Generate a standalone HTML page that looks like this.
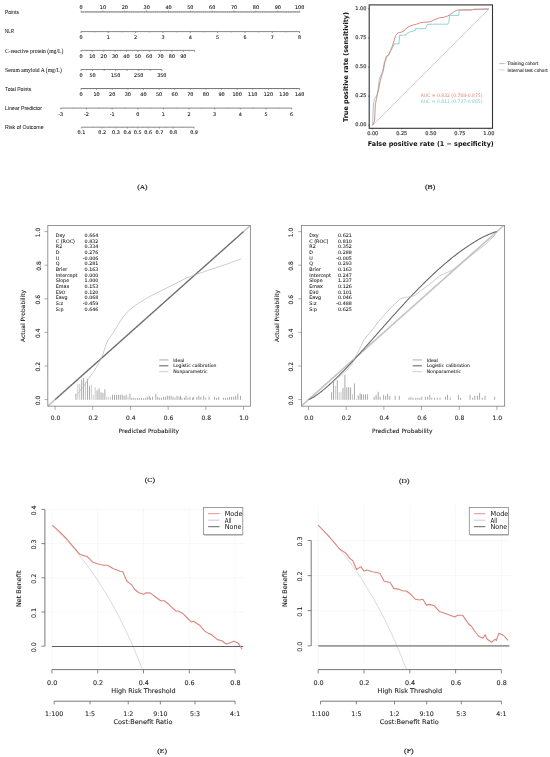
<!DOCTYPE html>
<html><head><meta charset="utf-8"><title>Figure</title>
<style>html,body{margin:0;padding:0;background:#fff;}svg{display:block;}.d{font-family:"DejaVu Sans","Liberation Sans",sans-serif}.l{font-family:"Liberation Sans",sans-serif}.s{font-family:"Liberation Serif",serif}</style></head>
<body><svg width="550" height="757" viewBox="0 0 550 757">
<rect width="550" height="757" fill="#fff"/>
<text class="l" x="5" y="14.1" font-size="5.2" fill="#262626" stroke="#262626" stroke-width="0.06" textLength="14" lengthAdjust="spacingAndGlyphs">Points</text>
<text class="l" x="5" y="33.4" font-size="5.2" fill="#262626" stroke="#262626" stroke-width="0.06" textLength="9" lengthAdjust="spacingAndGlyphs">NLR</text>
<text class="s" x="5.1" y="52.6" font-size="5.6" fill="#262626" stroke="#262626" stroke-width="0.06" textLength="58.2" lengthAdjust="spacingAndGlyphs">C-reactive protein (mg/L)</text>
<text class="s" x="5.1" y="71.9" font-size="5.6" fill="#262626" stroke="#262626" stroke-width="0.06" textLength="56.7" lengthAdjust="spacingAndGlyphs">Serum amyloid A (mg/L)</text>
<text class="l" x="5.1" y="90.6" font-size="5.2" fill="#262626" stroke="#262626" stroke-width="0.06" textLength="26.2" lengthAdjust="spacingAndGlyphs">Total Points</text>
<text class="l" x="5.1" y="110" font-size="5.2" fill="#262626" stroke="#262626" stroke-width="0.06" textLength="36.8" lengthAdjust="spacingAndGlyphs">Linear Predictor</text>
<text class="l" x="5.1" y="128.9" font-size="5.2" fill="#262626" stroke="#262626" stroke-width="0.06" textLength="38.5" lengthAdjust="spacingAndGlyphs">Risk of Outcome</text>
<line x1="81.1" y1="11.9" x2="299.6" y2="11.9" stroke="#7a7a7a" stroke-width="1.0"/>
<line x1="81.1" y1="11.9" x2="81.1" y2="12.8" stroke="#7a7a7a" stroke-width="0.5"/>
<line x1="83.28" y1="11.9" x2="83.28" y2="12.8" stroke="#7a7a7a" stroke-width="0.5"/>
<line x1="85.47" y1="11.9" x2="85.47" y2="12.8" stroke="#7a7a7a" stroke-width="0.5"/>
<line x1="87.66" y1="11.9" x2="87.66" y2="12.8" stroke="#7a7a7a" stroke-width="0.5"/>
<line x1="89.84" y1="11.9" x2="89.84" y2="12.8" stroke="#7a7a7a" stroke-width="0.5"/>
<line x1="92.02" y1="11.9" x2="92.02" y2="12.8" stroke="#7a7a7a" stroke-width="0.5"/>
<line x1="94.21" y1="11.9" x2="94.21" y2="12.8" stroke="#7a7a7a" stroke-width="0.5"/>
<line x1="96.39" y1="11.9" x2="96.39" y2="12.8" stroke="#7a7a7a" stroke-width="0.5"/>
<line x1="98.58" y1="11.9" x2="98.58" y2="12.8" stroke="#7a7a7a" stroke-width="0.5"/>
<line x1="100.77" y1="11.9" x2="100.77" y2="12.8" stroke="#7a7a7a" stroke-width="0.5"/>
<line x1="102.95" y1="11.9" x2="102.95" y2="12.8" stroke="#7a7a7a" stroke-width="0.5"/>
<line x1="105.13" y1="11.9" x2="105.13" y2="12.8" stroke="#7a7a7a" stroke-width="0.5"/>
<line x1="107.32" y1="11.9" x2="107.32" y2="12.8" stroke="#7a7a7a" stroke-width="0.5"/>
<line x1="109.5" y1="11.9" x2="109.5" y2="12.8" stroke="#7a7a7a" stroke-width="0.5"/>
<line x1="111.69" y1="11.9" x2="111.69" y2="12.8" stroke="#7a7a7a" stroke-width="0.5"/>
<line x1="113.88" y1="11.9" x2="113.88" y2="12.8" stroke="#7a7a7a" stroke-width="0.5"/>
<line x1="116.06" y1="11.9" x2="116.06" y2="12.8" stroke="#7a7a7a" stroke-width="0.5"/>
<line x1="118.25" y1="11.9" x2="118.25" y2="12.8" stroke="#7a7a7a" stroke-width="0.5"/>
<line x1="120.43" y1="11.9" x2="120.43" y2="12.8" stroke="#7a7a7a" stroke-width="0.5"/>
<line x1="122.62" y1="11.9" x2="122.62" y2="12.8" stroke="#7a7a7a" stroke-width="0.5"/>
<line x1="124.8" y1="11.9" x2="124.8" y2="12.8" stroke="#7a7a7a" stroke-width="0.5"/>
<line x1="126.99" y1="11.9" x2="126.99" y2="12.8" stroke="#7a7a7a" stroke-width="0.5"/>
<line x1="129.17" y1="11.9" x2="129.17" y2="12.8" stroke="#7a7a7a" stroke-width="0.5"/>
<line x1="131.36" y1="11.9" x2="131.36" y2="12.8" stroke="#7a7a7a" stroke-width="0.5"/>
<line x1="133.54" y1="11.9" x2="133.54" y2="12.8" stroke="#7a7a7a" stroke-width="0.5"/>
<line x1="135.73" y1="11.9" x2="135.73" y2="12.8" stroke="#7a7a7a" stroke-width="0.5"/>
<line x1="137.91" y1="11.9" x2="137.91" y2="12.8" stroke="#7a7a7a" stroke-width="0.5"/>
<line x1="140.09" y1="11.9" x2="140.09" y2="12.8" stroke="#7a7a7a" stroke-width="0.5"/>
<line x1="142.28" y1="11.9" x2="142.28" y2="12.8" stroke="#7a7a7a" stroke-width="0.5"/>
<line x1="144.47" y1="11.9" x2="144.47" y2="12.8" stroke="#7a7a7a" stroke-width="0.5"/>
<line x1="146.65" y1="11.9" x2="146.65" y2="12.8" stroke="#7a7a7a" stroke-width="0.5"/>
<line x1="148.84" y1="11.9" x2="148.84" y2="12.8" stroke="#7a7a7a" stroke-width="0.5"/>
<line x1="151.02" y1="11.9" x2="151.02" y2="12.8" stroke="#7a7a7a" stroke-width="0.5"/>
<line x1="153.21" y1="11.9" x2="153.21" y2="12.8" stroke="#7a7a7a" stroke-width="0.5"/>
<line x1="155.39" y1="11.9" x2="155.39" y2="12.8" stroke="#7a7a7a" stroke-width="0.5"/>
<line x1="157.58" y1="11.9" x2="157.58" y2="12.8" stroke="#7a7a7a" stroke-width="0.5"/>
<line x1="159.76" y1="11.9" x2="159.76" y2="12.8" stroke="#7a7a7a" stroke-width="0.5"/>
<line x1="161.94" y1="11.9" x2="161.94" y2="12.8" stroke="#7a7a7a" stroke-width="0.5"/>
<line x1="164.13" y1="11.9" x2="164.13" y2="12.8" stroke="#7a7a7a" stroke-width="0.5"/>
<line x1="166.31" y1="11.9" x2="166.31" y2="12.8" stroke="#7a7a7a" stroke-width="0.5"/>
<line x1="168.5" y1="11.9" x2="168.5" y2="12.8" stroke="#7a7a7a" stroke-width="0.5"/>
<line x1="170.69" y1="11.9" x2="170.69" y2="12.8" stroke="#7a7a7a" stroke-width="0.5"/>
<line x1="172.87" y1="11.9" x2="172.87" y2="12.8" stroke="#7a7a7a" stroke-width="0.5"/>
<line x1="175.06" y1="11.9" x2="175.06" y2="12.8" stroke="#7a7a7a" stroke-width="0.5"/>
<line x1="177.24" y1="11.9" x2="177.24" y2="12.8" stroke="#7a7a7a" stroke-width="0.5"/>
<line x1="179.43" y1="11.9" x2="179.43" y2="12.8" stroke="#7a7a7a" stroke-width="0.5"/>
<line x1="181.61" y1="11.9" x2="181.61" y2="12.8" stroke="#7a7a7a" stroke-width="0.5"/>
<line x1="183.8" y1="11.9" x2="183.8" y2="12.8" stroke="#7a7a7a" stroke-width="0.5"/>
<line x1="185.98" y1="11.9" x2="185.98" y2="12.8" stroke="#7a7a7a" stroke-width="0.5"/>
<line x1="188.17" y1="11.9" x2="188.17" y2="12.8" stroke="#7a7a7a" stroke-width="0.5"/>
<line x1="190.35" y1="11.9" x2="190.35" y2="12.8" stroke="#7a7a7a" stroke-width="0.5"/>
<line x1="192.54" y1="11.9" x2="192.54" y2="12.8" stroke="#7a7a7a" stroke-width="0.5"/>
<line x1="194.72" y1="11.9" x2="194.72" y2="12.8" stroke="#7a7a7a" stroke-width="0.5"/>
<line x1="196.91" y1="11.9" x2="196.91" y2="12.8" stroke="#7a7a7a" stroke-width="0.5"/>
<line x1="199.09" y1="11.9" x2="199.09" y2="12.8" stroke="#7a7a7a" stroke-width="0.5"/>
<line x1="201.28" y1="11.9" x2="201.28" y2="12.8" stroke="#7a7a7a" stroke-width="0.5"/>
<line x1="203.46" y1="11.9" x2="203.46" y2="12.8" stroke="#7a7a7a" stroke-width="0.5"/>
<line x1="205.65" y1="11.9" x2="205.65" y2="12.8" stroke="#7a7a7a" stroke-width="0.5"/>
<line x1="207.83" y1="11.9" x2="207.83" y2="12.8" stroke="#7a7a7a" stroke-width="0.5"/>
<line x1="210.02" y1="11.9" x2="210.02" y2="12.8" stroke="#7a7a7a" stroke-width="0.5"/>
<line x1="212.2" y1="11.9" x2="212.2" y2="12.8" stroke="#7a7a7a" stroke-width="0.5"/>
<line x1="214.39" y1="11.9" x2="214.39" y2="12.8" stroke="#7a7a7a" stroke-width="0.5"/>
<line x1="216.57" y1="11.9" x2="216.57" y2="12.8" stroke="#7a7a7a" stroke-width="0.5"/>
<line x1="218.76" y1="11.9" x2="218.76" y2="12.8" stroke="#7a7a7a" stroke-width="0.5"/>
<line x1="220.94" y1="11.9" x2="220.94" y2="12.8" stroke="#7a7a7a" stroke-width="0.5"/>
<line x1="223.13" y1="11.9" x2="223.13" y2="12.8" stroke="#7a7a7a" stroke-width="0.5"/>
<line x1="225.31" y1="11.9" x2="225.31" y2="12.8" stroke="#7a7a7a" stroke-width="0.5"/>
<line x1="227.5" y1="11.9" x2="227.5" y2="12.8" stroke="#7a7a7a" stroke-width="0.5"/>
<line x1="229.68" y1="11.9" x2="229.68" y2="12.8" stroke="#7a7a7a" stroke-width="0.5"/>
<line x1="231.87" y1="11.9" x2="231.87" y2="12.8" stroke="#7a7a7a" stroke-width="0.5"/>
<line x1="234.05" y1="11.9" x2="234.05" y2="12.8" stroke="#7a7a7a" stroke-width="0.5"/>
<line x1="236.24" y1="11.9" x2="236.24" y2="12.8" stroke="#7a7a7a" stroke-width="0.5"/>
<line x1="238.42" y1="11.9" x2="238.42" y2="12.8" stroke="#7a7a7a" stroke-width="0.5"/>
<line x1="240.61" y1="11.9" x2="240.61" y2="12.8" stroke="#7a7a7a" stroke-width="0.5"/>
<line x1="242.79" y1="11.9" x2="242.79" y2="12.8" stroke="#7a7a7a" stroke-width="0.5"/>
<line x1="244.98" y1="11.9" x2="244.98" y2="12.8" stroke="#7a7a7a" stroke-width="0.5"/>
<line x1="247.16" y1="11.9" x2="247.16" y2="12.8" stroke="#7a7a7a" stroke-width="0.5"/>
<line x1="249.35" y1="11.9" x2="249.35" y2="12.8" stroke="#7a7a7a" stroke-width="0.5"/>
<line x1="251.53" y1="11.9" x2="251.53" y2="12.8" stroke="#7a7a7a" stroke-width="0.5"/>
<line x1="253.72" y1="11.9" x2="253.72" y2="12.8" stroke="#7a7a7a" stroke-width="0.5"/>
<line x1="255.9" y1="11.9" x2="255.9" y2="12.8" stroke="#7a7a7a" stroke-width="0.5"/>
<line x1="258.09" y1="11.9" x2="258.09" y2="12.8" stroke="#7a7a7a" stroke-width="0.5"/>
<line x1="260.27" y1="11.9" x2="260.27" y2="12.8" stroke="#7a7a7a" stroke-width="0.5"/>
<line x1="262.46" y1="11.9" x2="262.46" y2="12.8" stroke="#7a7a7a" stroke-width="0.5"/>
<line x1="264.64" y1="11.9" x2="264.64" y2="12.8" stroke="#7a7a7a" stroke-width="0.5"/>
<line x1="266.83" y1="11.9" x2="266.83" y2="12.8" stroke="#7a7a7a" stroke-width="0.5"/>
<line x1="269.01" y1="11.9" x2="269.01" y2="12.8" stroke="#7a7a7a" stroke-width="0.5"/>
<line x1="271.2" y1="11.9" x2="271.2" y2="12.8" stroke="#7a7a7a" stroke-width="0.5"/>
<line x1="273.38" y1="11.9" x2="273.38" y2="12.8" stroke="#7a7a7a" stroke-width="0.5"/>
<line x1="275.57" y1="11.9" x2="275.57" y2="12.8" stroke="#7a7a7a" stroke-width="0.5"/>
<line x1="277.75" y1="11.9" x2="277.75" y2="12.8" stroke="#7a7a7a" stroke-width="0.5"/>
<line x1="279.94" y1="11.9" x2="279.94" y2="12.8" stroke="#7a7a7a" stroke-width="0.5"/>
<line x1="282.12" y1="11.9" x2="282.12" y2="12.8" stroke="#7a7a7a" stroke-width="0.5"/>
<line x1="284.31" y1="11.9" x2="284.31" y2="12.8" stroke="#7a7a7a" stroke-width="0.5"/>
<line x1="286.49" y1="11.9" x2="286.49" y2="12.8" stroke="#7a7a7a" stroke-width="0.5"/>
<line x1="288.68" y1="11.9" x2="288.68" y2="12.8" stroke="#7a7a7a" stroke-width="0.5"/>
<line x1="290.86" y1="11.9" x2="290.86" y2="12.8" stroke="#7a7a7a" stroke-width="0.5"/>
<line x1="293.05" y1="11.9" x2="293.05" y2="12.8" stroke="#7a7a7a" stroke-width="0.5"/>
<line x1="295.23" y1="11.9" x2="295.23" y2="12.8" stroke="#7a7a7a" stroke-width="0.5"/>
<line x1="297.42" y1="11.9" x2="297.42" y2="12.8" stroke="#7a7a7a" stroke-width="0.5"/>
<line x1="299.6" y1="11.9" x2="299.6" y2="12.8" stroke="#7a7a7a" stroke-width="0.5"/>
<line x1="81.1" y1="11.9" x2="81.1" y2="10.5" stroke="#7a7a7a" stroke-width="0.7"/>
<line x1="102.95" y1="11.9" x2="102.95" y2="10.5" stroke="#7a7a7a" stroke-width="0.7"/>
<line x1="124.8" y1="11.9" x2="124.8" y2="10.5" stroke="#7a7a7a" stroke-width="0.7"/>
<line x1="146.65" y1="11.9" x2="146.65" y2="10.5" stroke="#7a7a7a" stroke-width="0.7"/>
<line x1="168.5" y1="11.9" x2="168.5" y2="10.5" stroke="#7a7a7a" stroke-width="0.7"/>
<line x1="190.35" y1="11.9" x2="190.35" y2="10.5" stroke="#7a7a7a" stroke-width="0.7"/>
<line x1="212.2" y1="11.9" x2="212.2" y2="10.5" stroke="#7a7a7a" stroke-width="0.7"/>
<line x1="234.05" y1="11.9" x2="234.05" y2="10.5" stroke="#7a7a7a" stroke-width="0.7"/>
<line x1="255.9" y1="11.9" x2="255.9" y2="10.5" stroke="#7a7a7a" stroke-width="0.7"/>
<line x1="277.75" y1="11.9" x2="277.75" y2="10.5" stroke="#7a7a7a" stroke-width="0.7"/>
<line x1="299.6" y1="11.9" x2="299.6" y2="10.5" stroke="#7a7a7a" stroke-width="0.7"/>
<text class="d" x="81.1" y="8.8" font-size="4.9" fill="#222" stroke="#222" stroke-width="0.12" text-anchor="middle">0</text>
<text class="d" x="102.95" y="8.8" font-size="4.9" fill="#222" stroke="#222" stroke-width="0.12" text-anchor="middle">10</text>
<text class="d" x="124.8" y="8.8" font-size="4.9" fill="#222" stroke="#222" stroke-width="0.12" text-anchor="middle">20</text>
<text class="d" x="146.65" y="8.8" font-size="4.9" fill="#222" stroke="#222" stroke-width="0.12" text-anchor="middle">30</text>
<text class="d" x="168.5" y="8.8" font-size="4.9" fill="#222" stroke="#222" stroke-width="0.12" text-anchor="middle">40</text>
<text class="d" x="190.35" y="8.8" font-size="4.9" fill="#222" stroke="#222" stroke-width="0.12" text-anchor="middle">50</text>
<text class="d" x="212.2" y="8.8" font-size="4.9" fill="#222" stroke="#222" stroke-width="0.12" text-anchor="middle">60</text>
<text class="d" x="234.05" y="8.8" font-size="4.9" fill="#222" stroke="#222" stroke-width="0.12" text-anchor="middle">70</text>
<text class="d" x="255.9" y="8.8" font-size="4.9" fill="#222" stroke="#222" stroke-width="0.12" text-anchor="middle">80</text>
<text class="d" x="277.75" y="8.8" font-size="4.9" fill="#222" stroke="#222" stroke-width="0.12" text-anchor="middle">90</text>
<text class="d" x="299.6" y="8.8" font-size="4.9" fill="#222" stroke="#222" stroke-width="0.12" text-anchor="middle">100</text>
<line x1="81" y1="31.6" x2="299.6" y2="31.6" stroke="#7a7a7a" stroke-width="0.9"/>
<line x1="81" y1="31.6" x2="81" y2="32.5" stroke="#7a7a7a" stroke-width="0.5"/>
<line x1="94.66" y1="31.6" x2="94.66" y2="32.5" stroke="#7a7a7a" stroke-width="0.5"/>
<line x1="108.33" y1="31.6" x2="108.33" y2="32.5" stroke="#7a7a7a" stroke-width="0.5"/>
<line x1="121.99" y1="31.6" x2="121.99" y2="32.5" stroke="#7a7a7a" stroke-width="0.5"/>
<line x1="135.65" y1="31.6" x2="135.65" y2="32.5" stroke="#7a7a7a" stroke-width="0.5"/>
<line x1="149.31" y1="31.6" x2="149.31" y2="32.5" stroke="#7a7a7a" stroke-width="0.5"/>
<line x1="162.98" y1="31.6" x2="162.98" y2="32.5" stroke="#7a7a7a" stroke-width="0.5"/>
<line x1="176.64" y1="31.6" x2="176.64" y2="32.5" stroke="#7a7a7a" stroke-width="0.5"/>
<line x1="190.3" y1="31.6" x2="190.3" y2="32.5" stroke="#7a7a7a" stroke-width="0.5"/>
<line x1="203.96" y1="31.6" x2="203.96" y2="32.5" stroke="#7a7a7a" stroke-width="0.5"/>
<line x1="217.62" y1="31.6" x2="217.62" y2="32.5" stroke="#7a7a7a" stroke-width="0.5"/>
<line x1="231.29" y1="31.6" x2="231.29" y2="32.5" stroke="#7a7a7a" stroke-width="0.5"/>
<line x1="244.95" y1="31.6" x2="244.95" y2="32.5" stroke="#7a7a7a" stroke-width="0.5"/>
<line x1="258.61" y1="31.6" x2="258.61" y2="32.5" stroke="#7a7a7a" stroke-width="0.5"/>
<line x1="272.28" y1="31.6" x2="272.28" y2="32.5" stroke="#7a7a7a" stroke-width="0.5"/>
<line x1="285.94" y1="31.6" x2="285.94" y2="32.5" stroke="#7a7a7a" stroke-width="0.5"/>
<line x1="299.6" y1="31.6" x2="299.6" y2="32.5" stroke="#7a7a7a" stroke-width="0.5"/>
<line x1="81" y1="31.6" x2="81" y2="33" stroke="#7a7a7a" stroke-width="0.7"/>
<line x1="108.33" y1="31.6" x2="108.33" y2="33" stroke="#7a7a7a" stroke-width="0.7"/>
<line x1="135.65" y1="31.6" x2="135.65" y2="33" stroke="#7a7a7a" stroke-width="0.7"/>
<line x1="162.98" y1="31.6" x2="162.98" y2="33" stroke="#7a7a7a" stroke-width="0.7"/>
<line x1="190.3" y1="31.6" x2="190.3" y2="33" stroke="#7a7a7a" stroke-width="0.7"/>
<line x1="217.62" y1="31.6" x2="217.62" y2="33" stroke="#7a7a7a" stroke-width="0.7"/>
<line x1="244.95" y1="31.6" x2="244.95" y2="33" stroke="#7a7a7a" stroke-width="0.7"/>
<line x1="272.28" y1="31.6" x2="272.28" y2="33" stroke="#7a7a7a" stroke-width="0.7"/>
<line x1="299.6" y1="31.6" x2="299.6" y2="33" stroke="#7a7a7a" stroke-width="0.7"/>
<text class="d" x="81" y="39.4" font-size="4.9" fill="#222" stroke="#222" stroke-width="0.12" text-anchor="middle">0</text>
<text class="d" x="108.33" y="39.4" font-size="4.9" fill="#222" stroke="#222" stroke-width="0.12" text-anchor="middle">1</text>
<text class="d" x="135.65" y="39.4" font-size="4.9" fill="#222" stroke="#222" stroke-width="0.12" text-anchor="middle">2</text>
<text class="d" x="162.98" y="39.4" font-size="4.9" fill="#222" stroke="#222" stroke-width="0.12" text-anchor="middle">3</text>
<text class="d" x="190.3" y="39.4" font-size="4.9" fill="#222" stroke="#222" stroke-width="0.12" text-anchor="middle">4</text>
<text class="d" x="217.62" y="39.4" font-size="4.9" fill="#222" stroke="#222" stroke-width="0.12" text-anchor="middle">5</text>
<text class="d" x="244.95" y="39.4" font-size="4.9" fill="#222" stroke="#222" stroke-width="0.12" text-anchor="middle">6</text>
<text class="d" x="272.28" y="39.4" font-size="4.9" fill="#222" stroke="#222" stroke-width="0.12" text-anchor="middle">7</text>
<text class="d" x="299.6" y="39.4" font-size="4.9" fill="#222" stroke="#222" stroke-width="0.12" text-anchor="middle">8</text>
<line x1="81" y1="50.4" x2="194.7" y2="50.4" stroke="#7a7a7a" stroke-width="0.9"/>
<line x1="81" y1="50.4" x2="81" y2="51.3" stroke="#7a7a7a" stroke-width="0.5"/>
<line x1="86.69" y1="50.4" x2="86.69" y2="51.3" stroke="#7a7a7a" stroke-width="0.5"/>
<line x1="92.37" y1="50.4" x2="92.37" y2="51.3" stroke="#7a7a7a" stroke-width="0.5"/>
<line x1="98.05" y1="50.4" x2="98.05" y2="51.3" stroke="#7a7a7a" stroke-width="0.5"/>
<line x1="103.74" y1="50.4" x2="103.74" y2="51.3" stroke="#7a7a7a" stroke-width="0.5"/>
<line x1="109.42" y1="50.4" x2="109.42" y2="51.3" stroke="#7a7a7a" stroke-width="0.5"/>
<line x1="115.11" y1="50.4" x2="115.11" y2="51.3" stroke="#7a7a7a" stroke-width="0.5"/>
<line x1="120.79" y1="50.4" x2="120.79" y2="51.3" stroke="#7a7a7a" stroke-width="0.5"/>
<line x1="126.48" y1="50.4" x2="126.48" y2="51.3" stroke="#7a7a7a" stroke-width="0.5"/>
<line x1="132.16" y1="50.4" x2="132.16" y2="51.3" stroke="#7a7a7a" stroke-width="0.5"/>
<line x1="137.85" y1="50.4" x2="137.85" y2="51.3" stroke="#7a7a7a" stroke-width="0.5"/>
<line x1="143.53" y1="50.4" x2="143.53" y2="51.3" stroke="#7a7a7a" stroke-width="0.5"/>
<line x1="149.22" y1="50.4" x2="149.22" y2="51.3" stroke="#7a7a7a" stroke-width="0.5"/>
<line x1="154.9" y1="50.4" x2="154.9" y2="51.3" stroke="#7a7a7a" stroke-width="0.5"/>
<line x1="160.59" y1="50.4" x2="160.59" y2="51.3" stroke="#7a7a7a" stroke-width="0.5"/>
<line x1="166.27" y1="50.4" x2="166.27" y2="51.3" stroke="#7a7a7a" stroke-width="0.5"/>
<line x1="171.96" y1="50.4" x2="171.96" y2="51.3" stroke="#7a7a7a" stroke-width="0.5"/>
<line x1="177.64" y1="50.4" x2="177.64" y2="51.3" stroke="#7a7a7a" stroke-width="0.5"/>
<line x1="183.33" y1="50.4" x2="183.33" y2="51.3" stroke="#7a7a7a" stroke-width="0.5"/>
<line x1="189.01" y1="50.4" x2="189.01" y2="51.3" stroke="#7a7a7a" stroke-width="0.5"/>
<line x1="194.7" y1="50.4" x2="194.7" y2="51.3" stroke="#7a7a7a" stroke-width="0.5"/>
<line x1="81" y1="50.4" x2="81" y2="51.8" stroke="#7a7a7a" stroke-width="0.7"/>
<line x1="92.37" y1="50.4" x2="92.37" y2="51.8" stroke="#7a7a7a" stroke-width="0.7"/>
<line x1="103.74" y1="50.4" x2="103.74" y2="51.8" stroke="#7a7a7a" stroke-width="0.7"/>
<line x1="115.11" y1="50.4" x2="115.11" y2="51.8" stroke="#7a7a7a" stroke-width="0.7"/>
<line x1="126.48" y1="50.4" x2="126.48" y2="51.8" stroke="#7a7a7a" stroke-width="0.7"/>
<line x1="137.85" y1="50.4" x2="137.85" y2="51.8" stroke="#7a7a7a" stroke-width="0.7"/>
<line x1="149.22" y1="50.4" x2="149.22" y2="51.8" stroke="#7a7a7a" stroke-width="0.7"/>
<line x1="160.59" y1="50.4" x2="160.59" y2="51.8" stroke="#7a7a7a" stroke-width="0.7"/>
<line x1="171.96" y1="50.4" x2="171.96" y2="51.8" stroke="#7a7a7a" stroke-width="0.7"/>
<line x1="183.33" y1="50.4" x2="183.33" y2="51.8" stroke="#7a7a7a" stroke-width="0.7"/>
<line x1="194.7" y1="50.4" x2="194.7" y2="51.8" stroke="#7a7a7a" stroke-width="0.7"/>
<text class="d" x="81" y="58.2" font-size="4.9" fill="#222" stroke="#222" stroke-width="0.12" text-anchor="middle">0</text>
<text class="d" x="92.37" y="58.2" font-size="4.9" fill="#222" stroke="#222" stroke-width="0.12" text-anchor="middle">10</text>
<text class="d" x="103.74" y="58.2" font-size="4.9" fill="#222" stroke="#222" stroke-width="0.12" text-anchor="middle">20</text>
<text class="d" x="115.11" y="58.2" font-size="4.9" fill="#222" stroke="#222" stroke-width="0.12" text-anchor="middle">30</text>
<text class="d" x="126.48" y="58.2" font-size="4.9" fill="#222" stroke="#222" stroke-width="0.12" text-anchor="middle">40</text>
<text class="d" x="137.85" y="58.2" font-size="4.9" fill="#222" stroke="#222" stroke-width="0.12" text-anchor="middle">50</text>
<text class="d" x="149.22" y="58.2" font-size="4.9" fill="#222" stroke="#222" stroke-width="0.12" text-anchor="middle">60</text>
<text class="d" x="160.59" y="58.2" font-size="4.9" fill="#222" stroke="#222" stroke-width="0.12" text-anchor="middle">70</text>
<text class="d" x="171.96" y="58.2" font-size="4.9" fill="#222" stroke="#222" stroke-width="0.12" text-anchor="middle">80</text>
<text class="d" x="183.33" y="58.2" font-size="4.9" fill="#222" stroke="#222" stroke-width="0.12" text-anchor="middle">90</text>
<line x1="81" y1="69.5" x2="161.8" y2="69.5" stroke="#7a7a7a" stroke-width="0.9"/>
<line x1="81" y1="69.5" x2="81" y2="70.4" stroke="#7a7a7a" stroke-width="0.5"/>
<line x1="86.77" y1="69.5" x2="86.77" y2="70.4" stroke="#7a7a7a" stroke-width="0.5"/>
<line x1="92.54" y1="69.5" x2="92.54" y2="70.4" stroke="#7a7a7a" stroke-width="0.5"/>
<line x1="98.31" y1="69.5" x2="98.31" y2="70.4" stroke="#7a7a7a" stroke-width="0.5"/>
<line x1="104.09" y1="69.5" x2="104.09" y2="70.4" stroke="#7a7a7a" stroke-width="0.5"/>
<line x1="109.86" y1="69.5" x2="109.86" y2="70.4" stroke="#7a7a7a" stroke-width="0.5"/>
<line x1="115.63" y1="69.5" x2="115.63" y2="70.4" stroke="#7a7a7a" stroke-width="0.5"/>
<line x1="121.4" y1="69.5" x2="121.4" y2="70.4" stroke="#7a7a7a" stroke-width="0.5"/>
<line x1="127.17" y1="69.5" x2="127.17" y2="70.4" stroke="#7a7a7a" stroke-width="0.5"/>
<line x1="132.94" y1="69.5" x2="132.94" y2="70.4" stroke="#7a7a7a" stroke-width="0.5"/>
<line x1="138.71" y1="69.5" x2="138.71" y2="70.4" stroke="#7a7a7a" stroke-width="0.5"/>
<line x1="144.49" y1="69.5" x2="144.49" y2="70.4" stroke="#7a7a7a" stroke-width="0.5"/>
<line x1="150.26" y1="69.5" x2="150.26" y2="70.4" stroke="#7a7a7a" stroke-width="0.5"/>
<line x1="156.03" y1="69.5" x2="156.03" y2="70.4" stroke="#7a7a7a" stroke-width="0.5"/>
<line x1="161.8" y1="69.5" x2="161.8" y2="70.4" stroke="#7a7a7a" stroke-width="0.5"/>
<line x1="81" y1="69.5" x2="81" y2="70.9" stroke="#7a7a7a" stroke-width="0.7"/>
<line x1="92.54" y1="69.5" x2="92.54" y2="70.9" stroke="#7a7a7a" stroke-width="0.7"/>
<line x1="104.09" y1="69.5" x2="104.09" y2="70.9" stroke="#7a7a7a" stroke-width="0.7"/>
<line x1="115.63" y1="69.5" x2="115.63" y2="70.9" stroke="#7a7a7a" stroke-width="0.7"/>
<line x1="127.17" y1="69.5" x2="127.17" y2="70.9" stroke="#7a7a7a" stroke-width="0.7"/>
<line x1="138.71" y1="69.5" x2="138.71" y2="70.9" stroke="#7a7a7a" stroke-width="0.7"/>
<line x1="150.26" y1="69.5" x2="150.26" y2="70.9" stroke="#7a7a7a" stroke-width="0.7"/>
<line x1="161.8" y1="69.5" x2="161.8" y2="70.9" stroke="#7a7a7a" stroke-width="0.7"/>
<text class="d" x="81" y="77.3" font-size="4.9" fill="#222" stroke="#222" stroke-width="0.12" text-anchor="middle">0</text>
<text class="d" x="92.54" y="77.3" font-size="4.9" fill="#222" stroke="#222" stroke-width="0.12" text-anchor="middle">50</text>
<text class="d" x="115.63" y="77.3" font-size="4.9" fill="#222" stroke="#222" stroke-width="0.12" text-anchor="middle">150</text>
<text class="d" x="138.71" y="77.3" font-size="4.9" fill="#222" stroke="#222" stroke-width="0.12" text-anchor="middle">250</text>
<text class="d" x="161.8" y="77.3" font-size="4.9" fill="#222" stroke="#222" stroke-width="0.12" text-anchor="middle">350</text>
<line x1="81" y1="88.5" x2="299.6" y2="88.5" stroke="#7a7a7a" stroke-width="1.0"/>
<line x1="81" y1="88.5" x2="81" y2="89.4" stroke="#7a7a7a" stroke-width="0.5"/>
<line x1="84.12" y1="88.5" x2="84.12" y2="89.4" stroke="#7a7a7a" stroke-width="0.5"/>
<line x1="87.25" y1="88.5" x2="87.25" y2="89.4" stroke="#7a7a7a" stroke-width="0.5"/>
<line x1="90.37" y1="88.5" x2="90.37" y2="89.4" stroke="#7a7a7a" stroke-width="0.5"/>
<line x1="93.49" y1="88.5" x2="93.49" y2="89.4" stroke="#7a7a7a" stroke-width="0.5"/>
<line x1="96.61" y1="88.5" x2="96.61" y2="89.4" stroke="#7a7a7a" stroke-width="0.5"/>
<line x1="99.74" y1="88.5" x2="99.74" y2="89.4" stroke="#7a7a7a" stroke-width="0.5"/>
<line x1="102.86" y1="88.5" x2="102.86" y2="89.4" stroke="#7a7a7a" stroke-width="0.5"/>
<line x1="105.98" y1="88.5" x2="105.98" y2="89.4" stroke="#7a7a7a" stroke-width="0.5"/>
<line x1="109.11" y1="88.5" x2="109.11" y2="89.4" stroke="#7a7a7a" stroke-width="0.5"/>
<line x1="112.23" y1="88.5" x2="112.23" y2="89.4" stroke="#7a7a7a" stroke-width="0.5"/>
<line x1="115.35" y1="88.5" x2="115.35" y2="89.4" stroke="#7a7a7a" stroke-width="0.5"/>
<line x1="118.47" y1="88.5" x2="118.47" y2="89.4" stroke="#7a7a7a" stroke-width="0.5"/>
<line x1="121.6" y1="88.5" x2="121.6" y2="89.4" stroke="#7a7a7a" stroke-width="0.5"/>
<line x1="124.72" y1="88.5" x2="124.72" y2="89.4" stroke="#7a7a7a" stroke-width="0.5"/>
<line x1="127.84" y1="88.5" x2="127.84" y2="89.4" stroke="#7a7a7a" stroke-width="0.5"/>
<line x1="130.97" y1="88.5" x2="130.97" y2="89.4" stroke="#7a7a7a" stroke-width="0.5"/>
<line x1="134.09" y1="88.5" x2="134.09" y2="89.4" stroke="#7a7a7a" stroke-width="0.5"/>
<line x1="137.21" y1="88.5" x2="137.21" y2="89.4" stroke="#7a7a7a" stroke-width="0.5"/>
<line x1="140.33" y1="88.5" x2="140.33" y2="89.4" stroke="#7a7a7a" stroke-width="0.5"/>
<line x1="143.46" y1="88.5" x2="143.46" y2="89.4" stroke="#7a7a7a" stroke-width="0.5"/>
<line x1="146.58" y1="88.5" x2="146.58" y2="89.4" stroke="#7a7a7a" stroke-width="0.5"/>
<line x1="149.7" y1="88.5" x2="149.7" y2="89.4" stroke="#7a7a7a" stroke-width="0.5"/>
<line x1="152.83" y1="88.5" x2="152.83" y2="89.4" stroke="#7a7a7a" stroke-width="0.5"/>
<line x1="155.95" y1="88.5" x2="155.95" y2="89.4" stroke="#7a7a7a" stroke-width="0.5"/>
<line x1="159.07" y1="88.5" x2="159.07" y2="89.4" stroke="#7a7a7a" stroke-width="0.5"/>
<line x1="162.19" y1="88.5" x2="162.19" y2="89.4" stroke="#7a7a7a" stroke-width="0.5"/>
<line x1="165.32" y1="88.5" x2="165.32" y2="89.4" stroke="#7a7a7a" stroke-width="0.5"/>
<line x1="168.44" y1="88.5" x2="168.44" y2="89.4" stroke="#7a7a7a" stroke-width="0.5"/>
<line x1="171.56" y1="88.5" x2="171.56" y2="89.4" stroke="#7a7a7a" stroke-width="0.5"/>
<line x1="174.69" y1="88.5" x2="174.69" y2="89.4" stroke="#7a7a7a" stroke-width="0.5"/>
<line x1="177.81" y1="88.5" x2="177.81" y2="89.4" stroke="#7a7a7a" stroke-width="0.5"/>
<line x1="180.93" y1="88.5" x2="180.93" y2="89.4" stroke="#7a7a7a" stroke-width="0.5"/>
<line x1="184.05" y1="88.5" x2="184.05" y2="89.4" stroke="#7a7a7a" stroke-width="0.5"/>
<line x1="187.18" y1="88.5" x2="187.18" y2="89.4" stroke="#7a7a7a" stroke-width="0.5"/>
<line x1="190.3" y1="88.5" x2="190.3" y2="89.4" stroke="#7a7a7a" stroke-width="0.5"/>
<line x1="193.42" y1="88.5" x2="193.42" y2="89.4" stroke="#7a7a7a" stroke-width="0.5"/>
<line x1="196.55" y1="88.5" x2="196.55" y2="89.4" stroke="#7a7a7a" stroke-width="0.5"/>
<line x1="199.67" y1="88.5" x2="199.67" y2="89.4" stroke="#7a7a7a" stroke-width="0.5"/>
<line x1="202.79" y1="88.5" x2="202.79" y2="89.4" stroke="#7a7a7a" stroke-width="0.5"/>
<line x1="205.91" y1="88.5" x2="205.91" y2="89.4" stroke="#7a7a7a" stroke-width="0.5"/>
<line x1="209.04" y1="88.5" x2="209.04" y2="89.4" stroke="#7a7a7a" stroke-width="0.5"/>
<line x1="212.16" y1="88.5" x2="212.16" y2="89.4" stroke="#7a7a7a" stroke-width="0.5"/>
<line x1="215.28" y1="88.5" x2="215.28" y2="89.4" stroke="#7a7a7a" stroke-width="0.5"/>
<line x1="218.41" y1="88.5" x2="218.41" y2="89.4" stroke="#7a7a7a" stroke-width="0.5"/>
<line x1="221.53" y1="88.5" x2="221.53" y2="89.4" stroke="#7a7a7a" stroke-width="0.5"/>
<line x1="224.65" y1="88.5" x2="224.65" y2="89.4" stroke="#7a7a7a" stroke-width="0.5"/>
<line x1="227.77" y1="88.5" x2="227.77" y2="89.4" stroke="#7a7a7a" stroke-width="0.5"/>
<line x1="230.9" y1="88.5" x2="230.9" y2="89.4" stroke="#7a7a7a" stroke-width="0.5"/>
<line x1="234.02" y1="88.5" x2="234.02" y2="89.4" stroke="#7a7a7a" stroke-width="0.5"/>
<line x1="237.14" y1="88.5" x2="237.14" y2="89.4" stroke="#7a7a7a" stroke-width="0.5"/>
<line x1="240.27" y1="88.5" x2="240.27" y2="89.4" stroke="#7a7a7a" stroke-width="0.5"/>
<line x1="243.39" y1="88.5" x2="243.39" y2="89.4" stroke="#7a7a7a" stroke-width="0.5"/>
<line x1="246.51" y1="88.5" x2="246.51" y2="89.4" stroke="#7a7a7a" stroke-width="0.5"/>
<line x1="249.63" y1="88.5" x2="249.63" y2="89.4" stroke="#7a7a7a" stroke-width="0.5"/>
<line x1="252.76" y1="88.5" x2="252.76" y2="89.4" stroke="#7a7a7a" stroke-width="0.5"/>
<line x1="255.88" y1="88.5" x2="255.88" y2="89.4" stroke="#7a7a7a" stroke-width="0.5"/>
<line x1="259" y1="88.5" x2="259" y2="89.4" stroke="#7a7a7a" stroke-width="0.5"/>
<line x1="262.13" y1="88.5" x2="262.13" y2="89.4" stroke="#7a7a7a" stroke-width="0.5"/>
<line x1="265.25" y1="88.5" x2="265.25" y2="89.4" stroke="#7a7a7a" stroke-width="0.5"/>
<line x1="268.37" y1="88.5" x2="268.37" y2="89.4" stroke="#7a7a7a" stroke-width="0.5"/>
<line x1="271.49" y1="88.5" x2="271.49" y2="89.4" stroke="#7a7a7a" stroke-width="0.5"/>
<line x1="274.62" y1="88.5" x2="274.62" y2="89.4" stroke="#7a7a7a" stroke-width="0.5"/>
<line x1="277.74" y1="88.5" x2="277.74" y2="89.4" stroke="#7a7a7a" stroke-width="0.5"/>
<line x1="280.86" y1="88.5" x2="280.86" y2="89.4" stroke="#7a7a7a" stroke-width="0.5"/>
<line x1="283.99" y1="88.5" x2="283.99" y2="89.4" stroke="#7a7a7a" stroke-width="0.5"/>
<line x1="287.11" y1="88.5" x2="287.11" y2="89.4" stroke="#7a7a7a" stroke-width="0.5"/>
<line x1="290.23" y1="88.5" x2="290.23" y2="89.4" stroke="#7a7a7a" stroke-width="0.5"/>
<line x1="293.35" y1="88.5" x2="293.35" y2="89.4" stroke="#7a7a7a" stroke-width="0.5"/>
<line x1="296.48" y1="88.5" x2="296.48" y2="89.4" stroke="#7a7a7a" stroke-width="0.5"/>
<line x1="299.6" y1="88.5" x2="299.6" y2="89.4" stroke="#7a7a7a" stroke-width="0.5"/>
<line x1="81" y1="88.5" x2="81" y2="89.9" stroke="#7a7a7a" stroke-width="0.7"/>
<line x1="96.61" y1="88.5" x2="96.61" y2="89.9" stroke="#7a7a7a" stroke-width="0.7"/>
<line x1="112.23" y1="88.5" x2="112.23" y2="89.9" stroke="#7a7a7a" stroke-width="0.7"/>
<line x1="127.84" y1="88.5" x2="127.84" y2="89.9" stroke="#7a7a7a" stroke-width="0.7"/>
<line x1="143.46" y1="88.5" x2="143.46" y2="89.9" stroke="#7a7a7a" stroke-width="0.7"/>
<line x1="159.07" y1="88.5" x2="159.07" y2="89.9" stroke="#7a7a7a" stroke-width="0.7"/>
<line x1="174.69" y1="88.5" x2="174.69" y2="89.9" stroke="#7a7a7a" stroke-width="0.7"/>
<line x1="190.3" y1="88.5" x2="190.3" y2="89.9" stroke="#7a7a7a" stroke-width="0.7"/>
<line x1="205.91" y1="88.5" x2="205.91" y2="89.9" stroke="#7a7a7a" stroke-width="0.7"/>
<line x1="221.53" y1="88.5" x2="221.53" y2="89.9" stroke="#7a7a7a" stroke-width="0.7"/>
<line x1="237.14" y1="88.5" x2="237.14" y2="89.9" stroke="#7a7a7a" stroke-width="0.7"/>
<line x1="252.76" y1="88.5" x2="252.76" y2="89.9" stroke="#7a7a7a" stroke-width="0.7"/>
<line x1="268.37" y1="88.5" x2="268.37" y2="89.9" stroke="#7a7a7a" stroke-width="0.7"/>
<line x1="283.99" y1="88.5" x2="283.99" y2="89.9" stroke="#7a7a7a" stroke-width="0.7"/>
<line x1="299.6" y1="88.5" x2="299.6" y2="89.9" stroke="#7a7a7a" stroke-width="0.7"/>
<text class="d" x="81" y="96.3" font-size="4.9" fill="#222" stroke="#222" stroke-width="0.12" text-anchor="middle">0</text>
<text class="d" x="96.61" y="96.3" font-size="4.9" fill="#222" stroke="#222" stroke-width="0.12" text-anchor="middle">10</text>
<text class="d" x="112.23" y="96.3" font-size="4.9" fill="#222" stroke="#222" stroke-width="0.12" text-anchor="middle">20</text>
<text class="d" x="127.84" y="96.3" font-size="4.9" fill="#222" stroke="#222" stroke-width="0.12" text-anchor="middle">30</text>
<text class="d" x="143.46" y="96.3" font-size="4.9" fill="#222" stroke="#222" stroke-width="0.12" text-anchor="middle">40</text>
<text class="d" x="159.07" y="96.3" font-size="4.9" fill="#222" stroke="#222" stroke-width="0.12" text-anchor="middle">50</text>
<text class="d" x="174.69" y="96.3" font-size="4.9" fill="#222" stroke="#222" stroke-width="0.12" text-anchor="middle">60</text>
<text class="d" x="190.3" y="96.3" font-size="4.9" fill="#222" stroke="#222" stroke-width="0.12" text-anchor="middle">70</text>
<text class="d" x="205.91" y="96.3" font-size="4.9" fill="#222" stroke="#222" stroke-width="0.12" text-anchor="middle">80</text>
<text class="d" x="221.53" y="96.3" font-size="4.9" fill="#222" stroke="#222" stroke-width="0.12" text-anchor="middle">90</text>
<text class="d" x="237.14" y="96.3" font-size="4.9" fill="#222" stroke="#222" stroke-width="0.12" text-anchor="middle">100</text>
<text class="d" x="252.76" y="96.3" font-size="4.9" fill="#222" stroke="#222" stroke-width="0.12" text-anchor="middle">110</text>
<text class="d" x="268.37" y="96.3" font-size="4.9" fill="#222" stroke="#222" stroke-width="0.12" text-anchor="middle">120</text>
<text class="d" x="283.99" y="96.3" font-size="4.9" fill="#222" stroke="#222" stroke-width="0.12" text-anchor="middle">130</text>
<text class="d" x="299.6" y="96.3" font-size="4.9" fill="#222" stroke="#222" stroke-width="0.12" text-anchor="middle">140</text>
<line x1="60.8" y1="108.1" x2="291.6" y2="108.1" stroke="#7a7a7a" stroke-width="0.9"/>
<line x1="60.8" y1="108.1" x2="60.8" y2="109" stroke="#7a7a7a" stroke-width="0.5"/>
<line x1="73.62" y1="108.1" x2="73.62" y2="109" stroke="#7a7a7a" stroke-width="0.5"/>
<line x1="86.44" y1="108.1" x2="86.44" y2="109" stroke="#7a7a7a" stroke-width="0.5"/>
<line x1="99.27" y1="108.1" x2="99.27" y2="109" stroke="#7a7a7a" stroke-width="0.5"/>
<line x1="112.09" y1="108.1" x2="112.09" y2="109" stroke="#7a7a7a" stroke-width="0.5"/>
<line x1="124.91" y1="108.1" x2="124.91" y2="109" stroke="#7a7a7a" stroke-width="0.5"/>
<line x1="137.73" y1="108.1" x2="137.73" y2="109" stroke="#7a7a7a" stroke-width="0.5"/>
<line x1="150.56" y1="108.1" x2="150.56" y2="109" stroke="#7a7a7a" stroke-width="0.5"/>
<line x1="163.38" y1="108.1" x2="163.38" y2="109" stroke="#7a7a7a" stroke-width="0.5"/>
<line x1="176.2" y1="108.1" x2="176.2" y2="109" stroke="#7a7a7a" stroke-width="0.5"/>
<line x1="189.02" y1="108.1" x2="189.02" y2="109" stroke="#7a7a7a" stroke-width="0.5"/>
<line x1="201.84" y1="108.1" x2="201.84" y2="109" stroke="#7a7a7a" stroke-width="0.5"/>
<line x1="214.67" y1="108.1" x2="214.67" y2="109" stroke="#7a7a7a" stroke-width="0.5"/>
<line x1="227.49" y1="108.1" x2="227.49" y2="109" stroke="#7a7a7a" stroke-width="0.5"/>
<line x1="240.31" y1="108.1" x2="240.31" y2="109" stroke="#7a7a7a" stroke-width="0.5"/>
<line x1="253.13" y1="108.1" x2="253.13" y2="109" stroke="#7a7a7a" stroke-width="0.5"/>
<line x1="265.96" y1="108.1" x2="265.96" y2="109" stroke="#7a7a7a" stroke-width="0.5"/>
<line x1="278.78" y1="108.1" x2="278.78" y2="109" stroke="#7a7a7a" stroke-width="0.5"/>
<line x1="291.6" y1="108.1" x2="291.6" y2="109" stroke="#7a7a7a" stroke-width="0.5"/>
<line x1="60.8" y1="108.1" x2="60.8" y2="109.5" stroke="#7a7a7a" stroke-width="0.7"/>
<line x1="86.44" y1="108.1" x2="86.44" y2="109.5" stroke="#7a7a7a" stroke-width="0.7"/>
<line x1="112.09" y1="108.1" x2="112.09" y2="109.5" stroke="#7a7a7a" stroke-width="0.7"/>
<line x1="137.73" y1="108.1" x2="137.73" y2="109.5" stroke="#7a7a7a" stroke-width="0.7"/>
<line x1="163.38" y1="108.1" x2="163.38" y2="109.5" stroke="#7a7a7a" stroke-width="0.7"/>
<line x1="189.02" y1="108.1" x2="189.02" y2="109.5" stroke="#7a7a7a" stroke-width="0.7"/>
<line x1="214.67" y1="108.1" x2="214.67" y2="109.5" stroke="#7a7a7a" stroke-width="0.7"/>
<line x1="240.31" y1="108.1" x2="240.31" y2="109.5" stroke="#7a7a7a" stroke-width="0.7"/>
<line x1="265.96" y1="108.1" x2="265.96" y2="109.5" stroke="#7a7a7a" stroke-width="0.7"/>
<line x1="291.6" y1="108.1" x2="291.6" y2="109.5" stroke="#7a7a7a" stroke-width="0.7"/>
<text class="d" x="60.8" y="115.9" font-size="4.9" fill="#222" stroke="#222" stroke-width="0.12" text-anchor="middle">-3</text>
<text class="d" x="86.44" y="115.9" font-size="4.9" fill="#222" stroke="#222" stroke-width="0.12" text-anchor="middle">-2</text>
<text class="d" x="112.09" y="115.9" font-size="4.9" fill="#222" stroke="#222" stroke-width="0.12" text-anchor="middle">-1</text>
<text class="d" x="137.73" y="115.9" font-size="4.9" fill="#222" stroke="#222" stroke-width="0.12" text-anchor="middle">0</text>
<text class="d" x="163.38" y="115.9" font-size="4.9" fill="#222" stroke="#222" stroke-width="0.12" text-anchor="middle">1</text>
<text class="d" x="189.02" y="115.9" font-size="4.9" fill="#222" stroke="#222" stroke-width="0.12" text-anchor="middle">2</text>
<text class="d" x="214.67" y="115.9" font-size="4.9" fill="#222" stroke="#222" stroke-width="0.12" text-anchor="middle">3</text>
<text class="d" x="240.31" y="115.9" font-size="4.9" fill="#222" stroke="#222" stroke-width="0.12" text-anchor="middle">4</text>
<text class="d" x="265.96" y="115.9" font-size="4.9" fill="#222" stroke="#222" stroke-width="0.12" text-anchor="middle">5</text>
<text class="d" x="291.6" y="115.9" font-size="4.9" fill="#222" stroke="#222" stroke-width="0.12" text-anchor="middle">6</text>
<line x1="81.39" y1="127.2" x2="194.08" y2="127.2" stroke="#7a7a7a" stroke-width="0.9"/>
<line x1="81.39" y1="127.2" x2="81.39" y2="128.6" stroke="#7a7a7a" stroke-width="0.7"/>
<text class="d" x="81.39" y="134.3" font-size="4.9" fill="#222" stroke="#222" stroke-width="0.12" text-anchor="middle">0.1</text>
<line x1="102.18" y1="127.2" x2="102.18" y2="128.6" stroke="#7a7a7a" stroke-width="0.7"/>
<text class="d" x="102.18" y="134.3" font-size="4.9" fill="#222" stroke="#222" stroke-width="0.12" text-anchor="middle">0.2</text>
<line x1="116" y1="127.2" x2="116" y2="128.6" stroke="#7a7a7a" stroke-width="0.7"/>
<text class="d" x="116" y="134.3" font-size="4.9" fill="#222" stroke="#222" stroke-width="0.12" text-anchor="middle">0.3</text>
<line x1="127.34" y1="127.2" x2="127.34" y2="128.6" stroke="#7a7a7a" stroke-width="0.7"/>
<text class="d" x="127.34" y="134.3" font-size="4.9" fill="#222" stroke="#222" stroke-width="0.12" text-anchor="middle">0.4</text>
<line x1="137.73" y1="127.2" x2="137.73" y2="128.6" stroke="#7a7a7a" stroke-width="0.7"/>
<text class="d" x="137.73" y="134.3" font-size="4.9" fill="#222" stroke="#222" stroke-width="0.12" text-anchor="middle">0.5</text>
<line x1="148.13" y1="127.2" x2="148.13" y2="128.6" stroke="#7a7a7a" stroke-width="0.7"/>
<text class="d" x="148.13" y="134.3" font-size="4.9" fill="#222" stroke="#222" stroke-width="0.12" text-anchor="middle">0.6</text>
<line x1="159.46" y1="127.2" x2="159.46" y2="128.6" stroke="#7a7a7a" stroke-width="0.7"/>
<text class="d" x="159.46" y="134.3" font-size="4.9" fill="#222" stroke="#222" stroke-width="0.12" text-anchor="middle">0.7</text>
<line x1="173.28" y1="127.2" x2="173.28" y2="128.6" stroke="#7a7a7a" stroke-width="0.7"/>
<text class="d" x="173.28" y="134.3" font-size="4.9" fill="#222" stroke="#222" stroke-width="0.12" text-anchor="middle">0.8</text>
<line x1="194.08" y1="127.2" x2="194.08" y2="128.6" stroke="#7a7a7a" stroke-width="0.7"/>
<text class="d" x="194.08" y="134.3" font-size="4.9" fill="#222" stroke="#222" stroke-width="0.12" text-anchor="middle">0.9</text>
<line x1="93.25" y1="127.2" x2="93.25" y2="128" stroke="#7a7a7a" stroke-width="0.5"/>
<line x1="109.56" y1="127.2" x2="109.56" y2="128" stroke="#7a7a7a" stroke-width="0.5"/>
<line x1="121.86" y1="127.2" x2="121.86" y2="128" stroke="#7a7a7a" stroke-width="0.5"/>
<line x1="132.59" y1="127.2" x2="132.59" y2="128" stroke="#7a7a7a" stroke-width="0.5"/>
<line x1="142.88" y1="127.2" x2="142.88" y2="128" stroke="#7a7a7a" stroke-width="0.5"/>
<line x1="153.61" y1="127.2" x2="153.61" y2="128" stroke="#7a7a7a" stroke-width="0.5"/>
<line x1="165.91" y1="127.2" x2="165.91" y2="128" stroke="#7a7a7a" stroke-width="0.5"/>
<line x1="182.22" y1="127.2" x2="182.22" y2="128" stroke="#7a7a7a" stroke-width="0.5"/>
<line x1="372.7" y1="125.2" x2="488.9" y2="9" stroke="#b0b0b0" stroke-width="0.6"/>
<polyline points="372.7,125.2 373,113 373.6,102.8 374.8,98.3 376.5,96 377.6,92.7 378.5,86 379.3,79.2 381,75 382.7,71.3 383.6,66 384.3,62.3 385.5,61.4 386.5,57 388.5,55.5 390.5,51 392.5,48 394,43.9 399,43.9 399.6,35.4 406.3,34.9 406.8,33.5 409.7,32 415.3,30.4 415.3,28.7 425.5,28.7 426.5,26.5 427.2,24.7 430,24.2 447.7,24.2 448.9,21.9 449.5,15.4 459,15.4 459,11.2 459.6,10 472.6,9.5 488.9,9" fill="none" stroke="#7fd0d6" stroke-width="0.9" stroke-linejoin="round"/>
<polyline points="372.7,125.2 373,124.3 374.6,121 375,112 375.3,105.1 376.5,98.3 377.6,93.5 378.7,89.3 379.6,84 380.4,80.3 381.5,76 382.7,72.4 383.8,68 384.6,63 385.6,58.5 386.5,56.3 388.9,54.6 390.5,50.5 392.2,46.7 394,41 395.6,35.4 397.9,33 401.8,32 404,31 405.2,29.2 408,27 412,25.3 416.5,24.2 421,22.5 425,22.2 430,21.9 435,19.5 439.5,17.7 443,17.5 447.7,16 450.7,14.2 454.8,11.2 457.8,10 472.6,10 473,9.3 488.9,9" fill="none" stroke="#dc7a72" stroke-width="0.9" stroke-linejoin="round"/>
<rect x="369.2" y="4.9" width="123.3" height="123.4" fill="none" stroke="#333" stroke-width="1.1"/>
<text class="d" x="366.4" y="126.1" font-size="5.0" fill="#404040" stroke="#404040" stroke-width="0.2" text-anchor="end">0.00</text>
<text class="d" x="372.7" y="134.7" font-size="5.0" fill="#404040" stroke="#404040" stroke-width="0.2" text-anchor="middle">0.00</text>
<line x1="368" y1="125.2" x2="369.2" y2="125.2" stroke="#333" stroke-width="0.6"/>
<line x1="372.7" y1="128.3" x2="372.7" y2="129.5" stroke="#333" stroke-width="0.6"/>
<text class="d" x="366.4" y="97.05" font-size="5.0" fill="#404040" stroke="#404040" stroke-width="0.2" text-anchor="end">0.25</text>
<text class="d" x="401.75" y="134.7" font-size="5.0" fill="#404040" stroke="#404040" stroke-width="0.2" text-anchor="middle">0.25</text>
<line x1="368" y1="96.15" x2="369.2" y2="96.15" stroke="#333" stroke-width="0.6"/>
<line x1="401.75" y1="128.3" x2="401.75" y2="129.5" stroke="#333" stroke-width="0.6"/>
<text class="d" x="366.4" y="68" font-size="5.0" fill="#404040" stroke="#404040" stroke-width="0.2" text-anchor="end">0.50</text>
<text class="d" x="430.8" y="134.7" font-size="5.0" fill="#404040" stroke="#404040" stroke-width="0.2" text-anchor="middle">0.50</text>
<line x1="368" y1="67.1" x2="369.2" y2="67.1" stroke="#333" stroke-width="0.6"/>
<line x1="430.8" y1="128.3" x2="430.8" y2="129.5" stroke="#333" stroke-width="0.6"/>
<text class="d" x="366.4" y="38.95" font-size="5.0" fill="#404040" stroke="#404040" stroke-width="0.2" text-anchor="end">0.75</text>
<text class="d" x="459.85" y="134.7" font-size="5.0" fill="#404040" stroke="#404040" stroke-width="0.2" text-anchor="middle">0.75</text>
<line x1="368" y1="38.05" x2="369.2" y2="38.05" stroke="#333" stroke-width="0.6"/>
<line x1="459.85" y1="128.3" x2="459.85" y2="129.5" stroke="#333" stroke-width="0.6"/>
<text class="d" x="366.4" y="9.9" font-size="5.0" fill="#404040" stroke="#404040" stroke-width="0.2" text-anchor="end">1.00</text>
<text class="d" x="488.9" y="134.7" font-size="5.0" fill="#404040" stroke="#404040" stroke-width="0.2" text-anchor="middle">1.00</text>
<line x1="368" y1="9" x2="369.2" y2="9" stroke="#333" stroke-width="0.6"/>
<line x1="488.9" y1="128.3" x2="488.9" y2="129.5" stroke="#333" stroke-width="0.6"/>
<text class="d" x="430.8" y="145.6" font-size="6.6" fill="#111" font-weight="bold" text-anchor="middle" textLength="126" lengthAdjust="spacingAndGlyphs">False positive rate (1 − specificity)</text>
<text class="d" x="348.2" y="67" font-size="6.6" fill="#111" font-weight="bold" text-anchor="middle" transform="rotate(-90 348.2 67)" textLength="110" lengthAdjust="spacingAndGlyphs">True positive rate (sensitivity)</text>
<line x1="499.3" y1="63.6" x2="504.7" y2="63.6" stroke="#e8908a" stroke-width="0.8"/>
<line x1="499.3" y1="69.9" x2="504.7" y2="69.9" stroke="#9fdade" stroke-width="0.8"/>
<text class="d" x="507.5" y="65.3" font-size="4.6" fill="#2a2a2a" stroke="#2a2a2a" stroke-width="0.12" textLength="31" lengthAdjust="spacingAndGlyphs">Training cohort</text>
<text class="d" x="507.5" y="71.6" font-size="4.6" fill="#2a2a2a" stroke="#2a2a2a" stroke-width="0.12" textLength="40.3" lengthAdjust="spacingAndGlyphs">Internal test cohort</text>
<text class="d" x="420.7" y="96.7" font-size="4.8" fill="#e57f76" textLength="61.8" lengthAdjust="spacingAndGlyphs">AUC = 0.832 (0.788-0.875)</text>
<text class="d" x="420.7" y="103.3" font-size="4.8" fill="#7fcdd4" textLength="61.8" lengthAdjust="spacingAndGlyphs">AUC = 0.811 (0.737-0.885)</text>
<text class="s" x="142.4" y="188.8" font-size="6.9" fill="#111" stroke="#111" stroke-width="0.14" text-anchor="middle" textLength="10.4" lengthAdjust="spacingAndGlyphs">(A)</text>
<text class="s" x="430.2" y="188.8" font-size="6.9" fill="#111" stroke="#111" stroke-width="0.14" text-anchor="middle" textLength="10.3" lengthAdjust="spacingAndGlyphs">(B)</text>
<text class="s" x="149.9" y="482.2" font-size="6.9" fill="#111" stroke="#111" stroke-width="0.14" text-anchor="middle" textLength="10.2" lengthAdjust="spacingAndGlyphs">(C)</text>
<text class="s" x="404.3" y="482.7" font-size="6.9" fill="#111" stroke="#111" stroke-width="0.14" text-anchor="middle" textLength="10.4" lengthAdjust="spacingAndGlyphs">(D)</text>
<text class="s" x="162.2" y="752.5" font-size="6.9" fill="#111" stroke="#111" stroke-width="0.14" text-anchor="middle" textLength="9.8" lengthAdjust="spacingAndGlyphs">(E)</text>
<text class="s" x="408.8" y="752.5" font-size="6.9" fill="#111" stroke="#111" stroke-width="0.14" text-anchor="middle" textLength="9.5" lengthAdjust="spacingAndGlyphs">(F)</text>
<line x1="47.8" y1="406.11" x2="250.34" y2="225.5" stroke="#c4c4c4" stroke-width="1.6"/>
<line x1="75.9" y1="399.8" x2="75.9" y2="393.8" stroke="#6e6e6e" stroke-width="0.6"/>
<line x1="77.83" y1="399.8" x2="77.83" y2="383.8" stroke="#a8a8a8" stroke-width="0.6"/>
<line x1="79.76" y1="399.8" x2="79.76" y2="383.8" stroke="#a8a8a8" stroke-width="0.6"/>
<line x1="81.69" y1="399.8" x2="81.69" y2="379.8" stroke="#6e6e6e" stroke-width="0.6"/>
<line x1="83.62" y1="399.8" x2="83.62" y2="377.8" stroke="#6e6e6e" stroke-width="0.6"/>
<line x1="85.55" y1="399.8" x2="85.55" y2="381.8" stroke="#a8a8a8" stroke-width="0.6"/>
<line x1="87.48" y1="399.8" x2="87.48" y2="378.8" stroke="#6e6e6e" stroke-width="0.6"/>
<line x1="89.41" y1="399.8" x2="89.41" y2="385.8" stroke="#6e6e6e" stroke-width="0.6"/>
<line x1="91.34" y1="399.8" x2="91.34" y2="384.8" stroke="#a8a8a8" stroke-width="0.6"/>
<line x1="93.27" y1="399.8" x2="93.27" y2="394.8" stroke="#a8a8a8" stroke-width="0.6"/>
<line x1="95.2" y1="399.8" x2="95.2" y2="387.3" stroke="#a8a8a8" stroke-width="0.6"/>
<line x1="97.13" y1="399.8" x2="97.13" y2="390.3" stroke="#6e6e6e" stroke-width="0.6"/>
<line x1="99.06" y1="399.8" x2="99.06" y2="388.3" stroke="#6e6e6e" stroke-width="0.6"/>
<line x1="100.99" y1="399.8" x2="100.99" y2="392.3" stroke="#6e6e6e" stroke-width="0.6"/>
<line x1="102.92" y1="399.8" x2="102.92" y2="392.8" stroke="#6e6e6e" stroke-width="0.6"/>
<line x1="104.85" y1="399.8" x2="104.85" y2="389.3" stroke="#6e6e6e" stroke-width="0.6"/>
<line x1="106.78" y1="399.8" x2="106.78" y2="396.8" stroke="#a8a8a8" stroke-width="0.6"/>
<line x1="108.71" y1="399.8" x2="108.71" y2="396.8" stroke="#a8a8a8" stroke-width="0.6"/>
<line x1="110.64" y1="399.8" x2="110.64" y2="396.8" stroke="#a8a8a8" stroke-width="0.6"/>
<line x1="112.57" y1="399.8" x2="112.57" y2="394.8" stroke="#6e6e6e" stroke-width="0.6"/>
<line x1="114.5" y1="399.8" x2="114.5" y2="394.8" stroke="#6e6e6e" stroke-width="0.6"/>
<line x1="116.43" y1="399.8" x2="116.43" y2="394.8" stroke="#6e6e6e" stroke-width="0.6"/>
<line x1="118.36" y1="399.8" x2="118.36" y2="394.8" stroke="#6e6e6e" stroke-width="0.6"/>
<line x1="120.29" y1="399.8" x2="120.29" y2="394.8" stroke="#6e6e6e" stroke-width="0.6"/>
<line x1="122.22" y1="399.8" x2="122.22" y2="394.8" stroke="#6e6e6e" stroke-width="0.6"/>
<line x1="124.15" y1="399.8" x2="124.15" y2="395.8" stroke="#6e6e6e" stroke-width="0.6"/>
<line x1="126.08" y1="399.8" x2="126.08" y2="394.8" stroke="#6e6e6e" stroke-width="0.6"/>
<line x1="128.01" y1="399.8" x2="128.01" y2="396.8" stroke="#a8a8a8" stroke-width="0.6"/>
<line x1="129.94" y1="399.8" x2="129.94" y2="393.8" stroke="#6e6e6e" stroke-width="0.6"/>
<line x1="131.87" y1="399.8" x2="131.87" y2="397.8" stroke="#6e6e6e" stroke-width="0.6"/>
<line x1="133.8" y1="399.8" x2="133.8" y2="397.8" stroke="#6e6e6e" stroke-width="0.6"/>
<line x1="135.73" y1="399.8" x2="135.73" y2="398.3" stroke="#6e6e6e" stroke-width="0.6"/>
<line x1="137.66" y1="399.8" x2="137.66" y2="397.8" stroke="#6e6e6e" stroke-width="0.6"/>
<line x1="139.59" y1="399.8" x2="139.59" y2="398.3" stroke="#6e6e6e" stroke-width="0.6"/>
<line x1="141.52" y1="399.8" x2="141.52" y2="397.8" stroke="#6e6e6e" stroke-width="0.6"/>
<line x1="143.45" y1="399.8" x2="143.45" y2="398.3" stroke="#6e6e6e" stroke-width="0.6"/>
<line x1="145.38" y1="399.8" x2="145.38" y2="397.8" stroke="#6e6e6e" stroke-width="0.6"/>
<line x1="147.31" y1="399.8" x2="147.31" y2="396.8" stroke="#6e6e6e" stroke-width="0.6"/>
<line x1="149.24" y1="399.8" x2="149.24" y2="395.8" stroke="#6e6e6e" stroke-width="0.6"/>
<line x1="150.5" y1="399.8" x2="150.5" y2="397.8" stroke="#6e6e6e" stroke-width="0.6"/>
<line x1="152.5" y1="399.8" x2="152.5" y2="396.8" stroke="#6e6e6e" stroke-width="0.6"/>
<line x1="155.8" y1="399.8" x2="155.8" y2="393.8" stroke="#6e6e6e" stroke-width="0.6"/>
<line x1="157.7" y1="399.8" x2="157.7" y2="396.8" stroke="#6e6e6e" stroke-width="0.6"/>
<line x1="159.6" y1="399.8" x2="159.6" y2="397.8" stroke="#6e6e6e" stroke-width="0.6"/>
<line x1="161.5" y1="399.8" x2="161.5" y2="397.8" stroke="#6e6e6e" stroke-width="0.6"/>
<line x1="163.5" y1="399.8" x2="163.5" y2="396.8" stroke="#6e6e6e" stroke-width="0.6"/>
<line x1="165.4" y1="399.8" x2="165.4" y2="396.8" stroke="#6e6e6e" stroke-width="0.6"/>
<line x1="167.3" y1="399.8" x2="167.3" y2="395.8" stroke="#6e6e6e" stroke-width="0.6"/>
<line x1="169.2" y1="399.8" x2="169.2" y2="395.8" stroke="#6e6e6e" stroke-width="0.6"/>
<line x1="171.1" y1="399.8" x2="171.1" y2="395.8" stroke="#6e6e6e" stroke-width="0.6"/>
<line x1="173" y1="399.8" x2="173" y2="396.8" stroke="#6e6e6e" stroke-width="0.6"/>
<line x1="175" y1="399.8" x2="175" y2="397.8" stroke="#6e6e6e" stroke-width="0.6"/>
<line x1="177" y1="399.8" x2="177" y2="395.8" stroke="#6e6e6e" stroke-width="0.6"/>
<line x1="179" y1="399.8" x2="179" y2="396.8" stroke="#6e6e6e" stroke-width="0.6"/>
<line x1="180.5" y1="399.8" x2="180.5" y2="395.8" stroke="#6e6e6e" stroke-width="0.6"/>
<line x1="182" y1="399.8" x2="182" y2="397.8" stroke="#6e6e6e" stroke-width="0.6"/>
<line x1="184.5" y1="399.8" x2="184.5" y2="397.8" stroke="#6e6e6e" stroke-width="0.6"/>
<line x1="186" y1="399.8" x2="186" y2="395.8" stroke="#6e6e6e" stroke-width="0.6"/>
<line x1="188" y1="399.8" x2="188" y2="397.8" stroke="#6e6e6e" stroke-width="0.6"/>
<line x1="190" y1="399.8" x2="190" y2="396.8" stroke="#6e6e6e" stroke-width="0.6"/>
<line x1="192.7" y1="399.8" x2="192.7" y2="397.8" stroke="#6e6e6e" stroke-width="0.6"/>
<line x1="193.4" y1="399.8" x2="193.4" y2="396.8" stroke="#6e6e6e" stroke-width="0.6"/>
<line x1="196.8" y1="399.8" x2="196.8" y2="396.8" stroke="#6e6e6e" stroke-width="0.6"/>
<line x1="198.9" y1="399.8" x2="198.9" y2="395.8" stroke="#6e6e6e" stroke-width="0.6"/>
<line x1="200.9" y1="399.8" x2="200.9" y2="396.8" stroke="#6e6e6e" stroke-width="0.6"/>
<line x1="203.6" y1="399.8" x2="203.6" y2="395.8" stroke="#6e6e6e" stroke-width="0.6"/>
<line x1="205.7" y1="399.8" x2="205.7" y2="397.8" stroke="#6e6e6e" stroke-width="0.6"/>
<line x1="209.1" y1="399.8" x2="209.1" y2="396.8" stroke="#6e6e6e" stroke-width="0.6"/>
<line x1="214.6" y1="399.8" x2="214.6" y2="396.8" stroke="#6e6e6e" stroke-width="0.6"/>
<line x1="216.6" y1="399.8" x2="216.6" y2="397.8" stroke="#6e6e6e" stroke-width="0.6"/>
<line x1="218.7" y1="399.8" x2="218.7" y2="396.8" stroke="#6e6e6e" stroke-width="0.6"/>
<line x1="223.4" y1="399.8" x2="223.4" y2="397.8" stroke="#6e6e6e" stroke-width="0.6"/>
<line x1="225.5" y1="399.8" x2="225.5" y2="397.8" stroke="#6e6e6e" stroke-width="0.6"/>
<line x1="227.5" y1="399.8" x2="227.5" y2="397.8" stroke="#6e6e6e" stroke-width="0.6"/>
<line x1="229.6" y1="399.8" x2="229.6" y2="396.8" stroke="#6e6e6e" stroke-width="0.6"/>
<line x1="231.6" y1="399.8" x2="231.6" y2="396.8" stroke="#6e6e6e" stroke-width="0.6"/>
<line x1="233.7" y1="399.8" x2="233.7" y2="396.8" stroke="#6e6e6e" stroke-width="0.6"/>
<line x1="235.7" y1="399.8" x2="235.7" y2="395.8" stroke="#6e6e6e" stroke-width="0.6"/>
<line x1="237.8" y1="399.8" x2="237.8" y2="393.8" stroke="#6e6e6e" stroke-width="0.6"/>
<line x1="240.5" y1="399.8" x2="240.5" y2="395.8" stroke="#6e6e6e" stroke-width="0.6"/>
<polyline points="55.19,399.52 56.14,398.68 57.08,397.84 58.02,397 58.96,396.16 59.9,395.32 60.84,394.48 61.78,393.64 62.72,392.8 63.66,391.96 64.6,391.12 65.55,390.29 66.49,389.45 67.43,388.61 68.37,387.77 69.31,386.93 70.25,386.09 71.19,385.25 72.13,384.41 73.07,383.57 74.02,382.73 74.96,381.89 75.9,381.05 76.84,380.22 77.78,379.38 78.72,378.54 79.66,377.7 80.6,376.86 81.54,376.02 82.48,375.18 83.43,374.34 84.37,373.5 85.31,372.66 86.25,371.82 87.19,370.98 88.13,370.15 89.07,369.31 90.01,368.47 90.95,367.63 91.9,366.79 92.84,365.95 93.78,365.11 94.72,364.27 95.66,363.43 96.6,362.59 97.54,361.75 98.48,360.91 99.42,360.08 100.36,359.24 101.31,358.4 102.25,357.56 103.19,356.72 104.13,355.88 105.07,355.04 106.01,354.2 106.95,353.36 107.89,352.52 108.83,351.68 109.78,350.84 110.72,350.01 111.66,349.17 112.6,348.33 113.54,347.49 114.48,346.65 115.42,345.81 116.36,344.97 117.3,344.13 118.25,343.29 119.19,342.45 120.13,341.61 121.07,340.77 122.01,339.94 122.95,339.1 123.89,338.26 124.83,337.42 125.77,336.58 126.71,335.74 127.66,334.9 128.6,334.06 129.54,333.22 130.48,332.38 131.42,331.54 132.36,330.7 133.3,329.87 134.24,329.03 135.18,328.19 136.13,327.35 137.07,326.51 138.01,325.67 138.95,324.83 139.89,323.99 140.83,323.15 141.77,322.31 142.71,321.47 143.65,320.63 144.59,319.8 145.54,318.96 146.48,318.12 147.42,317.28 148.36,316.44 149.3,315.6 150.24,314.76 151.18,313.92 152.12,313.08 153.06,312.24 154.01,311.4 154.95,310.57 155.89,309.73 156.83,308.89 157.77,308.05 158.71,307.21 159.65,306.37 160.59,305.53 161.53,304.69 162.47,303.85 163.42,303.01 164.36,302.17 165.3,301.33 166.24,300.5 167.18,299.66 168.12,298.82 169.06,297.98 170,297.14 170.94,296.3 171.89,295.46 172.83,294.62 173.77,293.78 174.71,292.94 175.65,292.1 176.59,291.26 177.53,290.43 178.47,289.59 179.41,288.75 180.35,287.91 181.3,287.07 182.24,286.23 183.18,285.39 184.12,284.55 185.06,283.71 186,282.87 186.94,282.03 187.88,281.19 188.82,280.36 189.77,279.52 190.71,278.68 191.65,277.84 192.59,277 193.53,276.16 194.47,275.32 195.41,274.48 196.35,273.64 197.29,272.8 198.24,271.96 199.18,271.12 200.12,270.29 201.06,269.45 202,268.61 202.94,267.77 203.88,266.93 204.82,266.09 205.76,265.25 206.7,264.41 207.65,263.57 208.59,262.73 209.53,261.89 210.47,261.05 211.41,260.22 212.35,259.38 213.29,258.54 214.23,257.7 215.17,256.86 216.12,256.02 217.06,255.18 218,254.34 218.94,253.5 219.88,252.66 220.82,251.82 221.76,250.98 222.7,250.15 223.64,249.31 224.58,248.47 225.53,247.63 226.47,246.79 227.41,245.95 228.35,245.11 229.29,244.27 230.23,243.43 231.17,242.59 232.11,241.75 233.05,240.91 234,240.08 234.94,239.24 235.88,238.4 236.82,237.56 237.76,236.72 238.7,235.88 239.64,235.04 240.58,234.2 241.52,233.36 242.46,232.52 243.41,231.68" fill="none" stroke="#6a6a6a" stroke-width="1.1" stroke-linejoin="round"/>
<polyline points="76.39,395.23 80.35,390.36 84.49,385.32 88.26,379.44 92.21,373.56 96.17,367.68 100.13,360.62 103.14,353.74 105.21,346.85 108.04,339.96 110.49,336.43 113.5,332.4 118.03,324.84 122.92,317.28 128.2,311.06 133.29,306.86 138.37,303.34 148.55,297.12 161.17,290.74 173.79,284.35 186.41,277.97 196.59,274.27 211.85,269.06 227.11,264.02 241.05,258.82" fill="none" stroke="#b8b8b8" stroke-width="0.7" stroke-linejoin="round"/>
<rect x="47.8" y="225.5" width="202.6" height="180.7" fill="none" stroke="#8a8a8a" stroke-width="0.9"/>
<line x1="44.5" y1="399.6" x2="47.8" y2="399.6" stroke="#777" stroke-width="0.6"/>
<text class="d" x="38" y="400.4" font-size="6.0" fill="#1e1e1e" stroke="#1e1e1e" stroke-width="0.09" text-anchor="middle" transform="rotate(-90 38 400.4)" dominant-baseline="central">0.0</text>
<line x1="55.1" y1="406.2" x2="55.1" y2="410" stroke="#777" stroke-width="0.6"/>
<text class="d" x="55.5" y="420.4" font-size="6.0" fill="#1e1e1e" stroke="#1e1e1e" stroke-width="0.09" text-anchor="middle">0.0</text>
<line x1="44.5" y1="366" x2="47.8" y2="366" stroke="#777" stroke-width="0.6"/>
<text class="d" x="38" y="366.8" font-size="6.0" fill="#1e1e1e" stroke="#1e1e1e" stroke-width="0.09" text-anchor="middle" transform="rotate(-90 38 366.8)" dominant-baseline="central">0.2</text>
<line x1="92.78" y1="406.2" x2="92.78" y2="410" stroke="#777" stroke-width="0.6"/>
<text class="d" x="93.18" y="420.4" font-size="6.0" fill="#1e1e1e" stroke="#1e1e1e" stroke-width="0.09" text-anchor="middle">0.2</text>
<line x1="44.5" y1="332.4" x2="47.8" y2="332.4" stroke="#777" stroke-width="0.6"/>
<text class="d" x="38" y="333.2" font-size="6.0" fill="#1e1e1e" stroke="#1e1e1e" stroke-width="0.09" text-anchor="middle" transform="rotate(-90 38 333.2)" dominant-baseline="central">0.4</text>
<line x1="130.46" y1="406.2" x2="130.46" y2="410" stroke="#777" stroke-width="0.6"/>
<text class="d" x="130.86" y="420.4" font-size="6.0" fill="#1e1e1e" stroke="#1e1e1e" stroke-width="0.09" text-anchor="middle">0.4</text>
<line x1="44.5" y1="298.8" x2="47.8" y2="298.8" stroke="#777" stroke-width="0.6"/>
<text class="d" x="38" y="299.6" font-size="6.0" fill="#1e1e1e" stroke="#1e1e1e" stroke-width="0.09" text-anchor="middle" transform="rotate(-90 38 299.6)" dominant-baseline="central">0.6</text>
<line x1="168.14" y1="406.2" x2="168.14" y2="410" stroke="#777" stroke-width="0.6"/>
<text class="d" x="168.54" y="420.4" font-size="6.0" fill="#1e1e1e" stroke="#1e1e1e" stroke-width="0.09" text-anchor="middle">0.6</text>
<line x1="44.5" y1="265.2" x2="47.8" y2="265.2" stroke="#777" stroke-width="0.6"/>
<text class="d" x="38" y="266" font-size="6.0" fill="#1e1e1e" stroke="#1e1e1e" stroke-width="0.09" text-anchor="middle" transform="rotate(-90 38 266)" dominant-baseline="central">0.8</text>
<line x1="205.82" y1="406.2" x2="205.82" y2="410" stroke="#777" stroke-width="0.6"/>
<text class="d" x="206.22" y="420.4" font-size="6.0" fill="#1e1e1e" stroke="#1e1e1e" stroke-width="0.09" text-anchor="middle">0.8</text>
<line x1="44.5" y1="231.6" x2="47.8" y2="231.6" stroke="#777" stroke-width="0.6"/>
<text class="d" x="38" y="232.4" font-size="6.0" fill="#1e1e1e" stroke="#1e1e1e" stroke-width="0.09" text-anchor="middle" transform="rotate(-90 38 232.4)" dominant-baseline="central">1.0</text>
<line x1="243.5" y1="406.2" x2="243.5" y2="410" stroke="#777" stroke-width="0.6"/>
<text class="d" x="243.9" y="420.4" font-size="6.0" fill="#1e1e1e" stroke="#1e1e1e" stroke-width="0.09" text-anchor="middle">1.0</text>
<text class="d" x="23.1" y="316" font-size="5.9" fill="#1e1e1e" stroke="#1e1e1e" stroke-width="0.09" text-anchor="middle" transform="rotate(-90 23.1 316)" textLength="52" lengthAdjust="spacingAndGlyphs" dominant-baseline="central">Actual Probability</text>
<text class="d" x="148.7" y="433.4" font-size="5.9" fill="#1e1e1e" stroke="#1e1e1e" stroke-width="0.09" text-anchor="middle" textLength="60.5" lengthAdjust="spacingAndGlyphs">Predicted Probability</text>
<text class="d" x="55.8" y="236.9" font-size="4.8" fill="#262626" stroke="#262626" stroke-width="0.08">Dxy</text>
<text class="d" x="98.3" y="236.9" font-size="4.8" fill="#262626" stroke="#262626" stroke-width="0.08" text-anchor="end">0.664</text>
<text class="d" x="55.8" y="242.57" font-size="4.8" fill="#262626" stroke="#262626" stroke-width="0.08">C (ROC)</text>
<text class="d" x="98.3" y="242.57" font-size="4.8" fill="#262626" stroke="#262626" stroke-width="0.08" text-anchor="end">0.832</text>
<text class="d" x="55.8" y="248.24" font-size="4.8" fill="#262626" stroke="#262626" stroke-width="0.08">R2</text>
<text class="d" x="98.3" y="248.24" font-size="4.8" fill="#262626" stroke="#262626" stroke-width="0.08" text-anchor="end">0.334</text>
<text class="d" x="55.8" y="253.91" font-size="4.8" fill="#262626" stroke="#262626" stroke-width="0.08">D</text>
<text class="d" x="98.3" y="253.91" font-size="4.8" fill="#262626" stroke="#262626" stroke-width="0.08" text-anchor="end">0.276</text>
<text class="d" x="55.8" y="259.58" font-size="4.8" fill="#262626" stroke="#262626" stroke-width="0.08">U</text>
<text class="d" x="98.3" y="259.58" font-size="4.8" fill="#262626" stroke="#262626" stroke-width="0.08" text-anchor="end">-0.006</text>
<text class="d" x="55.8" y="265.25" font-size="4.8" fill="#262626" stroke="#262626" stroke-width="0.08">Q</text>
<text class="d" x="98.3" y="265.25" font-size="4.8" fill="#262626" stroke="#262626" stroke-width="0.08" text-anchor="end">0.281</text>
<text class="d" x="55.8" y="270.92" font-size="4.8" fill="#262626" stroke="#262626" stroke-width="0.08">Brier</text>
<text class="d" x="98.3" y="270.92" font-size="4.8" fill="#262626" stroke="#262626" stroke-width="0.08" text-anchor="end">0.163</text>
<text class="d" x="55.8" y="276.59" font-size="4.8" fill="#262626" stroke="#262626" stroke-width="0.08">Intercept</text>
<text class="d" x="98.3" y="276.59" font-size="4.8" fill="#262626" stroke="#262626" stroke-width="0.08" text-anchor="end">0.000</text>
<text class="d" x="55.8" y="282.26" font-size="4.8" fill="#262626" stroke="#262626" stroke-width="0.08">Slope</text>
<text class="d" x="98.3" y="282.26" font-size="4.8" fill="#262626" stroke="#262626" stroke-width="0.08" text-anchor="end">1.000</text>
<text class="d" x="55.8" y="287.93" font-size="4.8" fill="#262626" stroke="#262626" stroke-width="0.08">Emax</text>
<text class="d" x="98.3" y="287.93" font-size="4.8" fill="#262626" stroke="#262626" stroke-width="0.08" text-anchor="end">0.153</text>
<text class="d" x="55.8" y="293.6" font-size="4.8" fill="#262626" stroke="#262626" stroke-width="0.08">E90</text>
<text class="d" x="98.3" y="293.6" font-size="4.8" fill="#262626" stroke="#262626" stroke-width="0.08" text-anchor="end">0.120</text>
<text class="d" x="55.8" y="299.27" font-size="4.8" fill="#262626" stroke="#262626" stroke-width="0.08">Eavg</text>
<text class="d" x="98.3" y="299.27" font-size="4.8" fill="#262626" stroke="#262626" stroke-width="0.08" text-anchor="end">0.068</text>
<text class="d" x="55.8" y="304.94" font-size="4.8" fill="#262626" stroke="#262626" stroke-width="0.08">S:z</text>
<text class="d" x="98.3" y="304.94" font-size="4.8" fill="#262626" stroke="#262626" stroke-width="0.08" text-anchor="end">-0.459</text>
<text class="d" x="55.8" y="310.61" font-size="4.8" fill="#262626" stroke="#262626" stroke-width="0.08">S:p</text>
<text class="d" x="98.3" y="310.61" font-size="4.8" fill="#262626" stroke="#262626" stroke-width="0.08" text-anchor="end">0.646</text>
<line x1="159.2" y1="359.9" x2="168.4" y2="359.9" stroke="#c4c4c4" stroke-width="1.4"/>
<text class="d" x="173.2" y="361.5" font-size="4.6" fill="#262626" stroke="#262626" stroke-width="0.08">Ideal</text>
<line x1="159.2" y1="365.8" x2="168.4" y2="365.8" stroke="#6a6a6a" stroke-width="1.1"/>
<text class="d" x="173.2" y="367.4" font-size="4.6" fill="#262626" stroke="#262626" stroke-width="0.08">Logistic calibration</text>
<line x1="159.2" y1="371.7" x2="168.4" y2="371.7" stroke="#b8b8b8" stroke-width="0.7"/>
<text class="d" x="173.2" y="373.3" font-size="4.6" fill="#262626" stroke="#262626" stroke-width="0.08">Nonparametric</text>
<line x1="301.5" y1="405.84" x2="503.74" y2="225.5" stroke="#c4c4c4" stroke-width="1.6"/>
<line x1="331.6" y1="399.8" x2="331.6" y2="392.2" stroke="#6e6e6e" stroke-width="0.6"/>
<line x1="333.5" y1="399.8" x2="333.5" y2="380.2" stroke="#6e6e6e" stroke-width="0.6"/>
<line x1="335.4" y1="399.8" x2="335.4" y2="385.8" stroke="#a8a8a8" stroke-width="0.6"/>
<line x1="337.3" y1="399.8" x2="337.3" y2="380.2" stroke="#6e6e6e" stroke-width="0.6"/>
<line x1="339.2" y1="399.8" x2="339.2" y2="392.2" stroke="#a8a8a8" stroke-width="0.6"/>
<line x1="341.1" y1="399.8" x2="341.1" y2="392.2" stroke="#a8a8a8" stroke-width="0.6"/>
<line x1="343" y1="399.8" x2="343" y2="387.8" stroke="#6e6e6e" stroke-width="0.6"/>
<line x1="344.9" y1="399.8" x2="344.9" y2="374.8" stroke="#6e6e6e" stroke-width="0.6"/>
<line x1="346.8" y1="399.8" x2="346.8" y2="387.3" stroke="#6e6e6e" stroke-width="0.6"/>
<line x1="348.7" y1="399.8" x2="348.7" y2="387.3" stroke="#6e6e6e" stroke-width="0.6"/>
<line x1="350.6" y1="399.8" x2="350.6" y2="387.3" stroke="#6e6e6e" stroke-width="0.6"/>
<line x1="352.5" y1="399.8" x2="352.5" y2="394.3" stroke="#a8a8a8" stroke-width="0.6"/>
<line x1="354.4" y1="399.8" x2="354.4" y2="383.4" stroke="#6e6e6e" stroke-width="0.6"/>
<line x1="356.3" y1="399.8" x2="356.3" y2="398.8" stroke="#a8a8a8" stroke-width="0.6"/>
<line x1="358.2" y1="399.8" x2="358.2" y2="395.4" stroke="#6e6e6e" stroke-width="0.6"/>
<line x1="360.1" y1="399.8" x2="360.1" y2="393.3" stroke="#6e6e6e" stroke-width="0.6"/>
<line x1="361.5" y1="399.8" x2="361.5" y2="394.3" stroke="#6e6e6e" stroke-width="0.6"/>
<line x1="363.5" y1="399.8" x2="363.5" y2="394.3" stroke="#6e6e6e" stroke-width="0.6"/>
<line x1="365.5" y1="399.8" x2="365.5" y2="394.3" stroke="#6e6e6e" stroke-width="0.6"/>
<line x1="367.4" y1="399.8" x2="367.4" y2="394.3" stroke="#6e6e6e" stroke-width="0.6"/>
<line x1="374.1" y1="399.8" x2="374.1" y2="396.8" stroke="#6e6e6e" stroke-width="0.6"/>
<line x1="376.1" y1="399.8" x2="376.1" y2="394.8" stroke="#6e6e6e" stroke-width="0.6"/>
<line x1="378.2" y1="399.8" x2="378.2" y2="391.8" stroke="#6e6e6e" stroke-width="0.6"/>
<line x1="380.2" y1="399.8" x2="380.2" y2="396.8" stroke="#6e6e6e" stroke-width="0.6"/>
<line x1="383.6" y1="399.8" x2="383.6" y2="394.8" stroke="#6e6e6e" stroke-width="0.6"/>
<line x1="385.7" y1="399.8" x2="385.7" y2="395.8" stroke="#6e6e6e" stroke-width="0.6"/>
<line x1="387.7" y1="399.8" x2="387.7" y2="393.8" stroke="#6e6e6e" stroke-width="0.6"/>
<line x1="389.8" y1="399.8" x2="389.8" y2="395.8" stroke="#6e6e6e" stroke-width="0.6"/>
<line x1="395.2" y1="399.8" x2="395.2" y2="395.8" stroke="#6e6e6e" stroke-width="0.6"/>
<line x1="399.3" y1="399.8" x2="399.3" y2="395.8" stroke="#6e6e6e" stroke-width="0.6"/>
<line x1="408.9" y1="399.8" x2="408.9" y2="397.8" stroke="#6e6e6e" stroke-width="0.6"/>
<line x1="410.9" y1="399.8" x2="410.9" y2="396.8" stroke="#6e6e6e" stroke-width="0.6"/>
<line x1="413" y1="399.8" x2="413" y2="397.8" stroke="#6e6e6e" stroke-width="0.6"/>
<line x1="415.7" y1="399.8" x2="415.7" y2="397.8" stroke="#6e6e6e" stroke-width="0.6"/>
<line x1="417.8" y1="399.8" x2="417.8" y2="397.8" stroke="#6e6e6e" stroke-width="0.6"/>
<line x1="419.8" y1="399.8" x2="419.8" y2="397.8" stroke="#6e6e6e" stroke-width="0.6"/>
<line x1="421.8" y1="399.8" x2="421.8" y2="396.8" stroke="#6e6e6e" stroke-width="0.6"/>
<line x1="425.3" y1="399.8" x2="425.3" y2="396.8" stroke="#6e6e6e" stroke-width="0.6"/>
<line x1="427.7" y1="399.8" x2="427.7" y2="396.8" stroke="#6e6e6e" stroke-width="0.6"/>
<line x1="429.8" y1="399.8" x2="429.8" y2="394.8" stroke="#6e6e6e" stroke-width="0.6"/>
<line x1="431.8" y1="399.8" x2="431.8" y2="397.8" stroke="#6e6e6e" stroke-width="0.6"/>
<line x1="434.5" y1="399.8" x2="434.5" y2="397.8" stroke="#6e6e6e" stroke-width="0.6"/>
<line x1="437.3" y1="399.8" x2="437.3" y2="397.8" stroke="#6e6e6e" stroke-width="0.6"/>
<line x1="440" y1="399.8" x2="440" y2="397.8" stroke="#6e6e6e" stroke-width="0.6"/>
<line x1="445.5" y1="399.8" x2="445.5" y2="396.8" stroke="#6e6e6e" stroke-width="0.6"/>
<line x1="447.5" y1="399.8" x2="447.5" y2="394.8" stroke="#6e6e6e" stroke-width="0.6"/>
<line x1="450.2" y1="399.8" x2="450.2" y2="397.8" stroke="#6e6e6e" stroke-width="0.6"/>
<line x1="458.4" y1="399.8" x2="458.4" y2="394.8" stroke="#6e6e6e" stroke-width="0.6"/>
<line x1="460.5" y1="399.8" x2="460.5" y2="397.8" stroke="#6e6e6e" stroke-width="0.6"/>
<line x1="470" y1="399.8" x2="470" y2="394.8" stroke="#6e6e6e" stroke-width="0.6"/>
<line x1="472.7" y1="399.8" x2="472.7" y2="397.8" stroke="#6e6e6e" stroke-width="0.6"/>
<line x1="474.8" y1="399.8" x2="474.8" y2="395.8" stroke="#6e6e6e" stroke-width="0.6"/>
<line x1="477.5" y1="399.8" x2="477.5" y2="395.8" stroke="#6e6e6e" stroke-width="0.6"/>
<line x1="479.6" y1="399.8" x2="479.6" y2="392.8" stroke="#6e6e6e" stroke-width="0.6"/>
<line x1="482.3" y1="399.8" x2="482.3" y2="397.8" stroke="#6e6e6e" stroke-width="0.6"/>
<line x1="485" y1="399.8" x2="485" y2="395.8" stroke="#6e6e6e" stroke-width="0.6"/>
<line x1="494.6" y1="399.8" x2="494.6" y2="396.8" stroke="#6e6e6e" stroke-width="0.6"/>
<polyline points="308.59,399.58 309.54,399.25 310.48,398.83 311.42,398.35 312.36,397.82 313.3,397.26 314.24,396.67 315.18,396.06 316.12,395.42 317.06,394.77 318,394.09 318.95,393.39 319.89,392.68 320.83,391.95 321.77,391.2 322.71,390.44 323.65,389.67 324.59,388.88 325.53,388.08 326.47,387.27 327.42,386.44 328.36,385.61 329.3,384.76 330.24,383.91 331.18,383.04 332.12,382.16 333.06,381.28 334,380.38 334.94,379.48 335.88,378.57 336.83,377.65 337.77,376.73 338.71,375.79 339.65,374.85 340.59,373.9 341.53,372.95 342.47,371.99 343.41,371.02 344.35,370.04 345.3,369.06 346.24,368.08 347.18,367.09 348.12,366.09 349.06,365.09 350,364.09 350.94,363.08 351.88,362.06 352.82,361.05 353.76,360.02 354.71,359 355.65,357.97 356.59,356.94 357.53,355.9 358.47,354.86 359.41,353.82 360.35,352.77 361.29,351.73 362.23,350.68 363.18,349.62 364.12,348.57 365.06,347.51 366,346.46 366.94,345.4 367.88,344.33 368.82,343.27 369.76,342.21 370.7,341.14 371.65,340.08 372.59,339.01 373.53,337.95 374.47,336.88 375.41,335.81 376.35,334.74 377.29,333.68 378.23,332.61 379.17,331.54 380.11,330.48 381.06,329.41 382,328.34 382.94,327.28 383.88,326.21 384.82,325.15 385.76,324.09 386.7,323.03 387.64,321.97 388.58,320.91 389.53,319.85 390.47,318.8 391.41,317.74 392.35,316.69 393.29,315.64 394.23,314.59 395.17,313.55 396.11,312.51 397.05,311.47 397.99,310.43 398.94,309.39 399.88,308.36 400.82,307.33 401.76,306.3 402.7,305.28 403.64,304.26 404.58,303.24 405.52,302.23 406.46,301.21 407.41,300.21 408.35,299.2 409.29,298.2 410.23,297.21 411.17,296.21 412.11,295.23 413.05,294.24 413.99,293.26 414.93,292.28 415.87,291.31 416.82,290.34 417.76,289.38 418.7,288.42 419.64,287.47 420.58,286.51 421.52,285.57 422.46,284.63 423.4,283.69 424.34,282.76 425.29,281.84 426.23,280.92 427.17,280 428.11,279.09 429.05,278.18 429.99,277.28 430.93,276.39 431.87,275.5 432.81,274.62 433.75,273.74 434.7,272.87 435.64,272 436.58,271.14 437.52,270.28 438.46,269.43 439.4,268.59 440.34,267.75 441.28,266.92 442.22,266.09 443.17,265.28 444.11,264.46 445.05,263.66 445.99,262.86 446.93,262.06 447.87,261.27 448.81,260.49 449.75,259.72 450.69,258.95 451.64,258.19 452.58,257.44 453.52,256.69 454.46,255.95 455.4,255.21 456.34,254.49 457.28,253.77 458.22,253.06 459.16,252.35 460.1,251.65 461.05,250.96 461.99,250.28 462.93,249.6 463.87,248.94 464.81,248.27 465.75,247.62 466.69,246.98 467.63,246.34 468.57,245.71 469.52,245.09 470.46,244.48 471.4,243.87 472.34,243.28 473.28,242.69 474.22,242.11 475.16,241.54 476.1,240.98 477.04,240.42 477.98,239.88 478.93,239.35 479.87,238.82 480.81,238.31 481.75,237.8 482.69,237.31 483.63,236.83 484.57,236.35 485.51,235.89 486.45,235.44 487.4,235.01 488.34,234.58 489.28,234.17 490.22,233.78 491.16,233.4 492.1,233.03 493.04,232.69 493.98,232.37 494.92,232.07 495.86,231.81 496.81,231.61" fill="none" stroke="#6a6a6a" stroke-width="1.1" stroke-linejoin="round"/>
<polyline points="331.11,383.64 333.18,381.79 338.64,377.26 346.18,370.7 350.89,365.5 352.77,362.98 354.66,358.44 358.61,350.88 363.89,339.96 371.24,330.89 378.4,321.82 385.74,313.58 392.9,305.52 398.37,300.82 400.82,298.46 404.58,297.46 408.16,297.12 412.5,296.45 415.51,294.94 420.22,291.07 429.83,284.02 440,275.78 452.63,269.9 463.55,261.34 474.29,252.94 485.41,244.54 495.58,234.46" fill="none" stroke="#b8b8b8" stroke-width="0.7" stroke-linejoin="round"/>
<rect x="301.5" y="225.5" width="203.1" height="180.7" fill="none" stroke="#8a8a8a" stroke-width="0.9"/>
<line x1="298.2" y1="399.6" x2="301.5" y2="399.6" stroke="#777" stroke-width="0.6"/>
<text class="d" x="290.9" y="400.4" font-size="6.0" fill="#1e1e1e" stroke="#1e1e1e" stroke-width="0.09" text-anchor="middle" transform="rotate(-90 290.9 400.4)" dominant-baseline="central">0.0</text>
<line x1="308.5" y1="406.2" x2="308.5" y2="410" stroke="#777" stroke-width="0.6"/>
<text class="d" x="308.9" y="420.4" font-size="6.0" fill="#1e1e1e" stroke="#1e1e1e" stroke-width="0.09" text-anchor="middle">0.0</text>
<line x1="298.2" y1="366" x2="301.5" y2="366" stroke="#777" stroke-width="0.6"/>
<text class="d" x="290.9" y="366.8" font-size="6.0" fill="#1e1e1e" stroke="#1e1e1e" stroke-width="0.09" text-anchor="middle" transform="rotate(-90 290.9 366.8)" dominant-baseline="central">0.2</text>
<line x1="346.18" y1="406.2" x2="346.18" y2="410" stroke="#777" stroke-width="0.6"/>
<text class="d" x="346.58" y="420.4" font-size="6.0" fill="#1e1e1e" stroke="#1e1e1e" stroke-width="0.09" text-anchor="middle">0.2</text>
<line x1="298.2" y1="332.4" x2="301.5" y2="332.4" stroke="#777" stroke-width="0.6"/>
<text class="d" x="290.9" y="333.2" font-size="6.0" fill="#1e1e1e" stroke="#1e1e1e" stroke-width="0.09" text-anchor="middle" transform="rotate(-90 290.9 333.2)" dominant-baseline="central">0.4</text>
<line x1="383.86" y1="406.2" x2="383.86" y2="410" stroke="#777" stroke-width="0.6"/>
<text class="d" x="384.26" y="420.4" font-size="6.0" fill="#1e1e1e" stroke="#1e1e1e" stroke-width="0.09" text-anchor="middle">0.4</text>
<line x1="298.2" y1="298.8" x2="301.5" y2="298.8" stroke="#777" stroke-width="0.6"/>
<text class="d" x="290.9" y="299.6" font-size="6.0" fill="#1e1e1e" stroke="#1e1e1e" stroke-width="0.09" text-anchor="middle" transform="rotate(-90 290.9 299.6)" dominant-baseline="central">0.6</text>
<line x1="421.54" y1="406.2" x2="421.54" y2="410" stroke="#777" stroke-width="0.6"/>
<text class="d" x="421.94" y="420.4" font-size="6.0" fill="#1e1e1e" stroke="#1e1e1e" stroke-width="0.09" text-anchor="middle">0.6</text>
<line x1="298.2" y1="265.2" x2="301.5" y2="265.2" stroke="#777" stroke-width="0.6"/>
<text class="d" x="290.9" y="266" font-size="6.0" fill="#1e1e1e" stroke="#1e1e1e" stroke-width="0.09" text-anchor="middle" transform="rotate(-90 290.9 266)" dominant-baseline="central">0.8</text>
<line x1="459.22" y1="406.2" x2="459.22" y2="410" stroke="#777" stroke-width="0.6"/>
<text class="d" x="459.62" y="420.4" font-size="6.0" fill="#1e1e1e" stroke="#1e1e1e" stroke-width="0.09" text-anchor="middle">0.8</text>
<line x1="298.2" y1="231.6" x2="301.5" y2="231.6" stroke="#777" stroke-width="0.6"/>
<text class="d" x="290.9" y="232.4" font-size="6.0" fill="#1e1e1e" stroke="#1e1e1e" stroke-width="0.09" text-anchor="middle" transform="rotate(-90 290.9 232.4)" dominant-baseline="central">1.0</text>
<line x1="496.9" y1="406.2" x2="496.9" y2="410" stroke="#777" stroke-width="0.6"/>
<text class="d" x="497.3" y="420.4" font-size="6.0" fill="#1e1e1e" stroke="#1e1e1e" stroke-width="0.09" text-anchor="middle">1.0</text>
<text class="d" x="276.8" y="316" font-size="5.9" fill="#1e1e1e" stroke="#1e1e1e" stroke-width="0.09" text-anchor="middle" transform="rotate(-90 276.8 316)" textLength="52" lengthAdjust="spacingAndGlyphs" dominant-baseline="central">Actual Probability</text>
<text class="d" x="402.2" y="433.4" font-size="5.9" fill="#1e1e1e" stroke="#1e1e1e" stroke-width="0.09" text-anchor="middle" textLength="60.5" lengthAdjust="spacingAndGlyphs">Predicted Probability</text>
<text class="d" x="309.3" y="236.9" font-size="4.8" fill="#262626" stroke="#262626" stroke-width="0.08">Dxy</text>
<text class="d" x="351.8" y="236.9" font-size="4.8" fill="#262626" stroke="#262626" stroke-width="0.08" text-anchor="end">0.621</text>
<text class="d" x="309.3" y="242.57" font-size="4.8" fill="#262626" stroke="#262626" stroke-width="0.08">C (ROC)</text>
<text class="d" x="351.8" y="242.57" font-size="4.8" fill="#262626" stroke="#262626" stroke-width="0.08" text-anchor="end">0.810</text>
<text class="d" x="309.3" y="248.24" font-size="4.8" fill="#262626" stroke="#262626" stroke-width="0.08">R2</text>
<text class="d" x="351.8" y="248.24" font-size="4.8" fill="#262626" stroke="#262626" stroke-width="0.08" text-anchor="end">0.352</text>
<text class="d" x="309.3" y="253.91" font-size="4.8" fill="#262626" stroke="#262626" stroke-width="0.08">D</text>
<text class="d" x="351.8" y="253.91" font-size="4.8" fill="#262626" stroke="#262626" stroke-width="0.08" text-anchor="end">0.288</text>
<text class="d" x="309.3" y="259.58" font-size="4.8" fill="#262626" stroke="#262626" stroke-width="0.08">U</text>
<text class="d" x="351.8" y="259.58" font-size="4.8" fill="#262626" stroke="#262626" stroke-width="0.08" text-anchor="end">-0.005</text>
<text class="d" x="309.3" y="265.25" font-size="4.8" fill="#262626" stroke="#262626" stroke-width="0.08">Q</text>
<text class="d" x="351.8" y="265.25" font-size="4.8" fill="#262626" stroke="#262626" stroke-width="0.08" text-anchor="end">0.293</text>
<text class="d" x="309.3" y="270.92" font-size="4.8" fill="#262626" stroke="#262626" stroke-width="0.08">Brier</text>
<text class="d" x="351.8" y="270.92" font-size="4.8" fill="#262626" stroke="#262626" stroke-width="0.08" text-anchor="end">0.163</text>
<text class="d" x="309.3" y="276.59" font-size="4.8" fill="#262626" stroke="#262626" stroke-width="0.08">Intercept</text>
<text class="d" x="351.8" y="276.59" font-size="4.8" fill="#262626" stroke="#262626" stroke-width="0.08" text-anchor="end">0.247</text>
<text class="d" x="309.3" y="282.26" font-size="4.8" fill="#262626" stroke="#262626" stroke-width="0.08">Slope</text>
<text class="d" x="351.8" y="282.26" font-size="4.8" fill="#262626" stroke="#262626" stroke-width="0.08" text-anchor="end">1.237</text>
<text class="d" x="309.3" y="287.93" font-size="4.8" fill="#262626" stroke="#262626" stroke-width="0.08">Emax</text>
<text class="d" x="351.8" y="287.93" font-size="4.8" fill="#262626" stroke="#262626" stroke-width="0.08" text-anchor="end">0.126</text>
<text class="d" x="309.3" y="293.6" font-size="4.8" fill="#262626" stroke="#262626" stroke-width="0.08">E90</text>
<text class="d" x="351.8" y="293.6" font-size="4.8" fill="#262626" stroke="#262626" stroke-width="0.08" text-anchor="end">0.101</text>
<text class="d" x="309.3" y="299.27" font-size="4.8" fill="#262626" stroke="#262626" stroke-width="0.08">Eavg</text>
<text class="d" x="351.8" y="299.27" font-size="4.8" fill="#262626" stroke="#262626" stroke-width="0.08" text-anchor="end">0.046</text>
<text class="d" x="309.3" y="304.94" font-size="4.8" fill="#262626" stroke="#262626" stroke-width="0.08">S:z</text>
<text class="d" x="351.8" y="304.94" font-size="4.8" fill="#262626" stroke="#262626" stroke-width="0.08" text-anchor="end">-0.488</text>
<text class="d" x="309.3" y="310.61" font-size="4.8" fill="#262626" stroke="#262626" stroke-width="0.08">S:p</text>
<text class="d" x="351.8" y="310.61" font-size="4.8" fill="#262626" stroke="#262626" stroke-width="0.08" text-anchor="end">0.625</text>
<line x1="412.7" y1="359.9" x2="421.9" y2="359.9" stroke="#c4c4c4" stroke-width="1.4"/>
<text class="d" x="426.7" y="361.5" font-size="4.6" fill="#262626" stroke="#262626" stroke-width="0.08">Ideal</text>
<line x1="412.7" y1="365.8" x2="421.9" y2="365.8" stroke="#6a6a6a" stroke-width="1.1"/>
<text class="d" x="426.7" y="367.4" font-size="4.6" fill="#262626" stroke="#262626" stroke-width="0.08">Logistic calibration</text>
<line x1="412.7" y1="371.7" x2="421.9" y2="371.7" stroke="#b8b8b8" stroke-width="0.7"/>
<text class="d" x="426.7" y="373.3" font-size="4.6" fill="#262626" stroke="#262626" stroke-width="0.08">Nonparametric</text>
<line x1="51.9" y1="509.4" x2="51.9" y2="664" stroke="#f1f1f1" stroke-width="0.6"/>
<line x1="97.7" y1="509.4" x2="97.7" y2="664" stroke="#f1f1f1" stroke-width="0.6"/>
<line x1="143.5" y1="509.4" x2="143.5" y2="664" stroke="#f1f1f1" stroke-width="0.6"/>
<line x1="189.3" y1="509.4" x2="189.3" y2="664" stroke="#f1f1f1" stroke-width="0.6"/>
<line x1="235.1" y1="509.4" x2="235.1" y2="664" stroke="#f1f1f1" stroke-width="0.6"/>
<line x1="45.9" y1="646.2" x2="244" y2="646.2" stroke="#f1f1f1" stroke-width="0.6"/>
<line x1="45.9" y1="612" x2="244" y2="612" stroke="#f1f1f1" stroke-width="0.6"/>
<line x1="45.9" y1="577.8" x2="244" y2="577.8" stroke="#f1f1f1" stroke-width="0.6"/>
<line x1="45.9" y1="543.6" x2="244" y2="543.6" stroke="#f1f1f1" stroke-width="0.6"/>
<line x1="45.9" y1="509.4" x2="244" y2="509.4" stroke="#f1f1f1" stroke-width="0.6"/>
<polyline points="51.9,525.2 53.05,526.31 54.19,527.43 55.34,528.57 56.48,529.71 57.62,530.87 58.77,532.04 59.91,533.22 61.06,534.41 62.2,535.61 63.35,536.83 64.5,538.06 65.64,539.31 66.78,540.56 67.93,541.83 69.08,543.12 70.22,544.42 71.36,545.73 72.51,547.06 73.66,548.4 74.8,549.76 75.95,551.13 77.09,552.51 78.24,553.92 79.38,555.34 80.53,556.77 81.67,558.22 82.82,559.69 83.96,561.18 85.11,562.68 86.25,564.2 87.4,565.74 88.54,567.3 89.69,568.87 90.83,570.47 91.98,572.08 93.12,573.71 94.27,575.37 95.41,577.04 96.56,578.73 97.7,580.45 98.85,582.19 99.99,583.95 101.14,585.73 102.28,587.53 103.43,589.36 104.57,591.21 105.72,593.09 106.86,594.99 108.01,596.92 109.15,598.87 110.3,600.84 111.44,602.85 112.59,604.88 113.73,606.94 114.88,609.03 116.02,611.14 117.17,613.29 118.31,615.47 119.46,617.68 120.6,619.91 121.75,622.19 122.89,624.49 124.04,626.83 125.18,629.2 126.33,631.61 127.47,634.05 128.62,636.53 129.76,639.05 130.91,641.6 132.05,644.2 133.2,646.84 134.34,649.51 135.49,652.23 136.63,654.99 137.78,657.8 138.92,660.65 140.07,663.55 141.21,666.5 142.36,669" fill="none" stroke="#c8c8c8" stroke-width="0.7" stroke-linejoin="round"/>
<line x1="51.9" y1="646.5" x2="243.12" y2="646.5" stroke="#5e5e5e" stroke-width="1.0"/>
<polyline points="52.3,525.2 59.5,531.7 66.8,539 74.1,547.7 79.9,554.3 82.8,555.4 87.2,556.5 90.1,559.4 93,562.3 97.4,563.7 103.2,565.2 107.5,565.2 113.4,568.8 117.7,570.3 120,571.3 122.9,571.7 126.5,580.5 128.7,582.6 131.6,584.8 134.5,589.2 138.9,592.8 143.3,594.3 146.2,592.8 150.5,593.1 154.9,596.5 160.7,600.8 164.4,600.8 168,603.7 170.9,606.6 176,611 178.2,611 182.5,613.2 186.9,617.5 191.3,621.9 193.5,621.2 200,625.5 204.4,630.9 208.7,633.6 210.9,634.2 217.5,639.6 221.8,640.7 226.2,644 229.5,642.9 233.8,641.3 237.1,642.4 239.3,644.5 242,649.2" fill="none" stroke="#dc857b" stroke-width="1.1" stroke-linejoin="round"/>
<line x1="44.9" y1="509.4" x2="44.9" y2="646.2" stroke="#555" stroke-width="0.8"/>
<line x1="41.3" y1="646.2" x2="44.9" y2="646.2" stroke="#555" stroke-width="0.7"/>
<text class="d" x="33.3" y="647.2" font-size="6.3" fill="#1e1e1e" stroke="#1e1e1e" stroke-width="0.09" text-anchor="middle" transform="rotate(-90 33.3 647.2)" dominant-baseline="central">0.0</text>
<line x1="41.3" y1="612" x2="44.9" y2="612" stroke="#555" stroke-width="0.7"/>
<text class="d" x="33.3" y="613" font-size="6.3" fill="#1e1e1e" stroke="#1e1e1e" stroke-width="0.09" text-anchor="middle" transform="rotate(-90 33.3 613)" dominant-baseline="central">0.1</text>
<line x1="41.3" y1="577.8" x2="44.9" y2="577.8" stroke="#555" stroke-width="0.7"/>
<text class="d" x="33.3" y="578.8" font-size="6.3" fill="#1e1e1e" stroke="#1e1e1e" stroke-width="0.09" text-anchor="middle" transform="rotate(-90 33.3 578.8)" dominant-baseline="central">0.2</text>
<line x1="41.3" y1="543.6" x2="44.9" y2="543.6" stroke="#555" stroke-width="0.7"/>
<text class="d" x="33.3" y="544.6" font-size="6.3" fill="#1e1e1e" stroke="#1e1e1e" stroke-width="0.09" text-anchor="middle" transform="rotate(-90 33.3 544.6)" dominant-baseline="central">0.3</text>
<line x1="41.3" y1="509.4" x2="44.9" y2="509.4" stroke="#555" stroke-width="0.7"/>
<text class="d" x="33.3" y="510.4" font-size="6.3" fill="#1e1e1e" stroke="#1e1e1e" stroke-width="0.09" text-anchor="middle" transform="rotate(-90 33.3 510.4)" dominant-baseline="central">0.4</text>
<text class="d" x="18.6" y="588.8" font-size="6.4" fill="#1e1e1e" stroke="#1e1e1e" stroke-width="0.09" text-anchor="middle" transform="rotate(-90 18.6 588.8)" textLength="36.5" lengthAdjust="spacingAndGlyphs" dominant-baseline="central">Net Benefit</text>
<line x1="51.9" y1="669.6" x2="235.1" y2="669.6" stroke="#555" stroke-width="0.8"/>
<line x1="51.9" y1="669.6" x2="51.9" y2="673.4" stroke="#555" stroke-width="0.7"/>
<text class="d" x="52.2" y="684.6" font-size="6.4" fill="#1e1e1e" stroke="#1e1e1e" stroke-width="0.09" text-anchor="middle">0.0</text>
<line x1="97.7" y1="669.6" x2="97.7" y2="673.4" stroke="#555" stroke-width="0.7"/>
<text class="d" x="98" y="684.6" font-size="6.4" fill="#1e1e1e" stroke="#1e1e1e" stroke-width="0.09" text-anchor="middle">0.2</text>
<line x1="143.5" y1="669.6" x2="143.5" y2="673.4" stroke="#555" stroke-width="0.7"/>
<text class="d" x="143.8" y="684.6" font-size="6.4" fill="#1e1e1e" stroke="#1e1e1e" stroke-width="0.09" text-anchor="middle">0.4</text>
<line x1="189.3" y1="669.6" x2="189.3" y2="673.4" stroke="#555" stroke-width="0.7"/>
<text class="d" x="189.6" y="684.6" font-size="6.4" fill="#1e1e1e" stroke="#1e1e1e" stroke-width="0.09" text-anchor="middle">0.6</text>
<line x1="235.1" y1="669.6" x2="235.1" y2="673.4" stroke="#555" stroke-width="0.7"/>
<text class="d" x="235.4" y="684.6" font-size="6.4" fill="#1e1e1e" stroke="#1e1e1e" stroke-width="0.09" text-anchor="middle">0.8</text>
<text class="d" x="143.5" y="692.7" font-size="6.4" fill="#1e1e1e" stroke="#1e1e1e" stroke-width="0.09" text-anchor="middle" textLength="64.5" lengthAdjust="spacingAndGlyphs">High Risk Threshold</text>
<line x1="54.17" y1="701.2" x2="235.1" y2="701.2" stroke="#555" stroke-width="0.8"/>
<line x1="54.17" y1="701.2" x2="54.17" y2="704.4" stroke="#555" stroke-width="0.7"/>
<text class="d" x="54.17" y="715.5" font-size="6.3" fill="#1e1e1e" stroke="#1e1e1e" stroke-width="0.09" text-anchor="middle">1:100</text>
<line x1="90.07" y1="701.2" x2="90.07" y2="704.4" stroke="#555" stroke-width="0.7"/>
<text class="d" x="90.07" y="715.5" font-size="6.3" fill="#1e1e1e" stroke="#1e1e1e" stroke-width="0.09" text-anchor="middle">1:5</text>
<line x1="128.23" y1="701.2" x2="128.23" y2="704.4" stroke="#555" stroke-width="0.7"/>
<text class="d" x="128.23" y="715.5" font-size="6.3" fill="#1e1e1e" stroke="#1e1e1e" stroke-width="0.09" text-anchor="middle">1:2</text>
<line x1="160.37" y1="701.2" x2="160.37" y2="704.4" stroke="#555" stroke-width="0.7"/>
<text class="d" x="160.37" y="715.5" font-size="6.3" fill="#1e1e1e" stroke="#1e1e1e" stroke-width="0.09" text-anchor="middle">9:10</text>
<line x1="195.03" y1="701.2" x2="195.03" y2="704.4" stroke="#555" stroke-width="0.7"/>
<text class="d" x="195.03" y="715.5" font-size="6.3" fill="#1e1e1e" stroke="#1e1e1e" stroke-width="0.09" text-anchor="middle">5:3</text>
<line x1="235.1" y1="701.2" x2="235.1" y2="704.4" stroke="#555" stroke-width="0.7"/>
<text class="d" x="235.1" y="715.5" font-size="6.3" fill="#1e1e1e" stroke="#1e1e1e" stroke-width="0.09" text-anchor="middle">4:1</text>
<text class="d" x="143" y="723.9" font-size="6.4" fill="#1e1e1e" stroke="#1e1e1e" stroke-width="0.09" text-anchor="middle" textLength="59" lengthAdjust="spacingAndGlyphs">Cost:Benefit Ratio</text>
<rect x="203.5" y="507.4" width="39.3" height="27" fill="#fff" stroke="#888" stroke-width="0.8"/>
<line x1="204" y1="535.3" x2="242.8" y2="535.3" stroke="#b0b0b0" stroke-width="0.8"/>
<line x1="208.1" y1="513.7" x2="219.5" y2="513.7" stroke="#e08a84" stroke-width="0.9"/>
<text class="d" x="224.7" y="516.2" font-size="6.9" fill="#111" textLength="17.8" lengthAdjust="spacingAndGlyphs">Mode</text>
<line x1="208.1" y1="520.2" x2="219.5" y2="520.2" stroke="#c0c4d4" stroke-width="0.9"/>
<text class="d" x="224.7" y="522.7" font-size="6.9" fill="#111" textLength="6.9" lengthAdjust="spacingAndGlyphs">All</text>
<line x1="208.1" y1="526.7" x2="219.5" y2="526.7" stroke="#555" stroke-width="0.9"/>
<text class="d" x="224.7" y="529.2" font-size="6.9" fill="#111" textLength="16.7" lengthAdjust="spacingAndGlyphs">None</text>
<line x1="318.2" y1="505.4" x2="318.2" y2="664" stroke="#f1f1f1" stroke-width="0.6"/>
<line x1="364" y1="505.4" x2="364" y2="664" stroke="#f1f1f1" stroke-width="0.6"/>
<line x1="409.8" y1="505.4" x2="409.8" y2="664" stroke="#f1f1f1" stroke-width="0.6"/>
<line x1="455.6" y1="505.4" x2="455.6" y2="664" stroke="#f1f1f1" stroke-width="0.6"/>
<line x1="501.4" y1="505.4" x2="501.4" y2="664" stroke="#f1f1f1" stroke-width="0.6"/>
<line x1="312.2" y1="645.8" x2="510.3" y2="645.8" stroke="#f1f1f1" stroke-width="0.6"/>
<line x1="312.2" y1="610.7" x2="510.3" y2="610.7" stroke="#f1f1f1" stroke-width="0.6"/>
<line x1="312.2" y1="575.6" x2="510.3" y2="575.6" stroke="#f1f1f1" stroke-width="0.6"/>
<line x1="312.2" y1="540.5" x2="510.3" y2="540.5" stroke="#f1f1f1" stroke-width="0.6"/>
<polyline points="318.2,525.2 319.34,526.36 320.49,527.53 321.63,528.71 322.78,529.9 323.93,531.11 325.07,532.33 326.21,533.56 327.36,534.8 328.5,536.06 329.65,537.33 330.79,538.61 331.94,539.91 333.08,541.22 334.23,542.54 335.38,543.88 336.52,545.23 337.66,546.6 338.81,547.99 339.95,549.39 341.1,550.8 342.25,552.23 343.39,553.68 344.53,555.14 345.68,556.62 346.82,558.11 347.97,559.63 349.12,561.16 350.26,562.71 351.4,564.27 352.55,565.86 353.69,567.46 354.84,569.09 355.99,570.73 357.13,572.39 358.27,574.07 359.42,575.78 360.56,577.5 361.71,579.24 362.86,581.01 364,582.8 365.14,584.61 366.29,586.45 367.44,588.3 368.58,590.18 369.73,592.09 370.87,594.02 372.01,595.98 373.16,597.96 374.31,599.97 375.45,602 376.6,604.06 377.74,606.15 378.88,608.27 380.03,610.42 381.18,612.59 382.32,614.8 383.47,617.04 384.61,619.31 385.75,621.61 386.9,623.94 388.05,626.31 389.19,628.71 390.34,631.15 391.48,633.62 392.62,636.13 393.77,638.68 394.92,641.27 396.06,643.89 397.21,646.56 398.35,649.26 399.5,652.01 400.64,654.8 401.79,657.63 402.93,660.51 404.08,663.44 405.22,666.41 406.37,669" fill="none" stroke="#c8c8c8" stroke-width="0.7" stroke-linejoin="round"/>
<line x1="318.2" y1="645.8" x2="509.41" y2="645.8" stroke="#9a9a9a" stroke-width="1.8"/>
<polyline points="318,525.2 324.5,531.7 331.8,539.7 339.1,548.5 342.7,551.1 345.6,552.8 350,558.6 352.9,560.8 356.5,569.5 360.9,566.6 363.8,571 366.7,570 372.5,571.7 379.8,573.2 384.2,581.2 390.1,582.5 393.7,588.4 398.1,589.1 402.5,590.8 406.8,591.3 410.5,594.2 415.5,599.3 419.2,600 422.8,599.3 426.5,605.1 429.4,604.4 434.5,605.8 439.5,611.6 446.1,613.8 454.8,617 457.7,615.3 462.7,615.3 465.5,619.6 468.7,624 471.5,626.2 474.2,630.5 478.5,636 482.9,638.2 485.1,634.7 487.3,639.3 491.6,642.3 494.9,639.3 496.5,640.4 498.7,633.3 503.6,635.5 508,640.4" fill="none" stroke="#dc857b" stroke-width="1.1" stroke-linejoin="round"/>
<line x1="311.2" y1="540.5" x2="311.2" y2="645.8" stroke="#555" stroke-width="0.8"/>
<line x1="307.6" y1="645.8" x2="311.2" y2="645.8" stroke="#555" stroke-width="0.7"/>
<text class="d" x="299.6" y="646.8" font-size="6.3" fill="#1e1e1e" stroke="#1e1e1e" stroke-width="0.09" text-anchor="middle" transform="rotate(-90 299.6 646.8)" dominant-baseline="central">0.0</text>
<line x1="307.6" y1="610.7" x2="311.2" y2="610.7" stroke="#555" stroke-width="0.7"/>
<text class="d" x="299.6" y="611.7" font-size="6.3" fill="#1e1e1e" stroke="#1e1e1e" stroke-width="0.09" text-anchor="middle" transform="rotate(-90 299.6 611.7)" dominant-baseline="central">0.1</text>
<line x1="307.6" y1="575.6" x2="311.2" y2="575.6" stroke="#555" stroke-width="0.7"/>
<text class="d" x="299.6" y="576.6" font-size="6.3" fill="#1e1e1e" stroke="#1e1e1e" stroke-width="0.09" text-anchor="middle" transform="rotate(-90 299.6 576.6)" dominant-baseline="central">0.2</text>
<line x1="307.6" y1="540.5" x2="311.2" y2="540.5" stroke="#555" stroke-width="0.7"/>
<text class="d" x="299.6" y="541.5" font-size="6.3" fill="#1e1e1e" stroke="#1e1e1e" stroke-width="0.09" text-anchor="middle" transform="rotate(-90 299.6 541.5)" dominant-baseline="central">0.3</text>
<text class="d" x="284.9" y="588.8" font-size="6.4" fill="#1e1e1e" stroke="#1e1e1e" stroke-width="0.09" text-anchor="middle" transform="rotate(-90 284.9 588.8)" textLength="36.5" lengthAdjust="spacingAndGlyphs" dominant-baseline="central">Net Benefit</text>
<line x1="318.2" y1="669.6" x2="501.4" y2="669.6" stroke="#555" stroke-width="0.8"/>
<line x1="318.2" y1="669.6" x2="318.2" y2="673.4" stroke="#555" stroke-width="0.7"/>
<text class="d" x="318.5" y="684.6" font-size="6.4" fill="#1e1e1e" stroke="#1e1e1e" stroke-width="0.09" text-anchor="middle">0.0</text>
<line x1="364" y1="669.6" x2="364" y2="673.4" stroke="#555" stroke-width="0.7"/>
<text class="d" x="364.3" y="684.6" font-size="6.4" fill="#1e1e1e" stroke="#1e1e1e" stroke-width="0.09" text-anchor="middle">0.2</text>
<line x1="409.8" y1="669.6" x2="409.8" y2="673.4" stroke="#555" stroke-width="0.7"/>
<text class="d" x="410.1" y="684.6" font-size="6.4" fill="#1e1e1e" stroke="#1e1e1e" stroke-width="0.09" text-anchor="middle">0.4</text>
<line x1="455.6" y1="669.6" x2="455.6" y2="673.4" stroke="#555" stroke-width="0.7"/>
<text class="d" x="455.9" y="684.6" font-size="6.4" fill="#1e1e1e" stroke="#1e1e1e" stroke-width="0.09" text-anchor="middle">0.6</text>
<line x1="501.4" y1="669.6" x2="501.4" y2="673.4" stroke="#555" stroke-width="0.7"/>
<text class="d" x="501.7" y="684.6" font-size="6.4" fill="#1e1e1e" stroke="#1e1e1e" stroke-width="0.09" text-anchor="middle">0.8</text>
<text class="d" x="409.8" y="692.7" font-size="6.4" fill="#1e1e1e" stroke="#1e1e1e" stroke-width="0.09" text-anchor="middle" textLength="64.5" lengthAdjust="spacingAndGlyphs">High Risk Threshold</text>
<line x1="320.47" y1="701.2" x2="501.4" y2="701.2" stroke="#555" stroke-width="0.8"/>
<line x1="320.47" y1="701.2" x2="320.47" y2="704.4" stroke="#555" stroke-width="0.7"/>
<text class="d" x="320.47" y="715.5" font-size="6.3" fill="#1e1e1e" stroke="#1e1e1e" stroke-width="0.09" text-anchor="middle">1:100</text>
<line x1="356.37" y1="701.2" x2="356.37" y2="704.4" stroke="#555" stroke-width="0.7"/>
<text class="d" x="356.37" y="715.5" font-size="6.3" fill="#1e1e1e" stroke="#1e1e1e" stroke-width="0.09" text-anchor="middle">1:5</text>
<line x1="394.53" y1="701.2" x2="394.53" y2="704.4" stroke="#555" stroke-width="0.7"/>
<text class="d" x="394.53" y="715.5" font-size="6.3" fill="#1e1e1e" stroke="#1e1e1e" stroke-width="0.09" text-anchor="middle">1:2</text>
<line x1="426.67" y1="701.2" x2="426.67" y2="704.4" stroke="#555" stroke-width="0.7"/>
<text class="d" x="426.67" y="715.5" font-size="6.3" fill="#1e1e1e" stroke="#1e1e1e" stroke-width="0.09" text-anchor="middle">9:10</text>
<line x1="461.32" y1="701.2" x2="461.32" y2="704.4" stroke="#555" stroke-width="0.7"/>
<text class="d" x="461.32" y="715.5" font-size="6.3" fill="#1e1e1e" stroke="#1e1e1e" stroke-width="0.09" text-anchor="middle">5:3</text>
<line x1="501.4" y1="701.2" x2="501.4" y2="704.4" stroke="#555" stroke-width="0.7"/>
<text class="d" x="501.4" y="715.5" font-size="6.3" fill="#1e1e1e" stroke="#1e1e1e" stroke-width="0.09" text-anchor="middle">4:1</text>
<text class="d" x="409.3" y="723.9" font-size="6.4" fill="#1e1e1e" stroke="#1e1e1e" stroke-width="0.09" text-anchor="middle" textLength="59" lengthAdjust="spacingAndGlyphs">Cost:Benefit Ratio</text>
<rect x="469.3" y="507.4" width="39.3" height="27" fill="#fff" stroke="#888" stroke-width="0.8"/>
<line x1="469.8" y1="535.3" x2="508.6" y2="535.3" stroke="#b0b0b0" stroke-width="0.8"/>
<line x1="473.9" y1="513.7" x2="485.3" y2="513.7" stroke="#e08a84" stroke-width="0.9"/>
<text class="d" x="490.5" y="516.2" font-size="6.9" fill="#111" textLength="17.8" lengthAdjust="spacingAndGlyphs">Mode</text>
<line x1="473.9" y1="520.2" x2="485.3" y2="520.2" stroke="#c0c4d4" stroke-width="0.9"/>
<text class="d" x="490.5" y="522.7" font-size="6.9" fill="#111" textLength="6.9" lengthAdjust="spacingAndGlyphs">All</text>
<line x1="473.9" y1="526.7" x2="485.3" y2="526.7" stroke="#555" stroke-width="0.9"/>
<text class="d" x="490.5" y="529.2" font-size="6.9" fill="#111" textLength="16.7" lengthAdjust="spacingAndGlyphs">None</text>
</svg></body></html>
